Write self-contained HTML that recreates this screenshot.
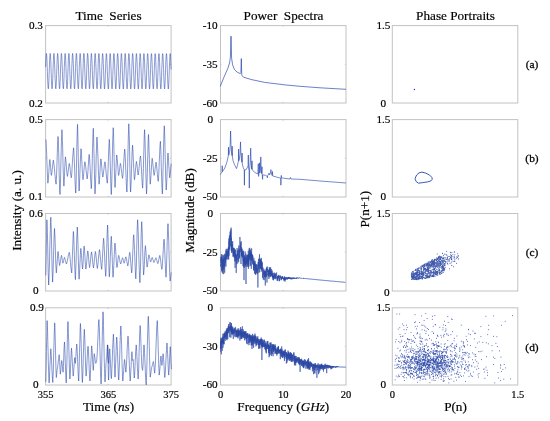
<!DOCTYPE html>
<html><head><meta charset="utf-8"><title>Time Series, Power Spectra, Phase Portraits</title>
<style>html,body{margin:0;padding:0;background:#fff}svg{display:block}text{font-family:"Liberation Serif","Times New Roman",serif;fill:#000;stroke:#000;stroke-width:0.18px}</style></head><body>
<svg width="550" height="421" viewBox="0 0 550 421">
<rect width="550" height="421" fill="#fff"/>
<rect x="45.6" y="25.6" width="125.5" height="77.4" fill="none" stroke="#c2c2c2" stroke-width="1"/>
<path d="M108.3 25.6v1.2M108.3 103.0v-1.2M45.6 64.3h1.2M171.1 64.3h-1.2" stroke="#b4b4b4" stroke-width="0.6" fill="none"/>
<rect x="45.6" y="119.6" width="125.5" height="77.4" fill="none" stroke="#c2c2c2" stroke-width="1"/>
<path d="M108.3 119.6v1.2M108.3 197.0v-1.2M45.6 158.3h1.2M171.1 158.3h-1.2" stroke="#b4b4b4" stroke-width="0.6" fill="none"/>
<rect x="45.6" y="213.5" width="125.5" height="77.5" fill="none" stroke="#c2c2c2" stroke-width="1"/>
<path d="M108.3 213.5v1.2M108.3 291.0v-1.2M45.6 252.2h1.2M171.1 252.2h-1.2" stroke="#b4b4b4" stroke-width="0.6" fill="none"/>
<rect x="45.6" y="307.8" width="125.5" height="77.2" fill="none" stroke="#c2c2c2" stroke-width="1"/>
<path d="M108.3 307.8v1.2M108.3 385.0v-1.2M45.6 346.4h1.2M171.1 346.4h-1.2" stroke="#b4b4b4" stroke-width="0.6" fill="none"/>
<rect x="220.5" y="25.6" width="125.5" height="77.4" fill="none" stroke="#c2c2c2" stroke-width="1"/>
<path d="M283.2 25.6v1.2M283.2 103.0v-1.2M220.5 64.3h1.2M346.0 64.3h-1.2" stroke="#b4b4b4" stroke-width="0.6" fill="none"/>
<rect x="220.5" y="119.6" width="125.5" height="77.4" fill="none" stroke="#c2c2c2" stroke-width="1"/>
<path d="M283.2 119.6v1.2M283.2 197.0v-1.2M220.5 158.3h1.2M346.0 158.3h-1.2" stroke="#b4b4b4" stroke-width="0.6" fill="none"/>
<rect x="220.5" y="213.5" width="125.5" height="77.5" fill="none" stroke="#c2c2c2" stroke-width="1"/>
<path d="M283.2 213.5v1.2M283.2 291.0v-1.2M220.5 252.2h1.2M346.0 252.2h-1.2" stroke="#b4b4b4" stroke-width="0.6" fill="none"/>
<rect x="220.5" y="307.8" width="125.5" height="77.2" fill="none" stroke="#c2c2c2" stroke-width="1"/>
<path d="M283.2 307.8v1.2M283.2 385.0v-1.2M220.5 346.4h1.2M346.0 346.4h-1.2" stroke="#b4b4b4" stroke-width="0.6" fill="none"/>
<rect x="392.3" y="25.6" width="125.5" height="77.4" fill="none" stroke="#c2c2c2" stroke-width="1"/>
<rect x="392.3" y="119.6" width="125.5" height="77.4" fill="none" stroke="#c2c2c2" stroke-width="1"/>
<rect x="392.3" y="213.5" width="125.5" height="77.5" fill="none" stroke="#c2c2c2" stroke-width="1"/>
<rect x="392.3" y="307.8" width="125.5" height="77.2" fill="none" stroke="#c2c2c2" stroke-width="1"/>
<polyline points="45.6,67.0 45.9,60.3 46.1,55.5 46.4,53.4 46.6,54.3 46.9,58.1 47.1,64.2 47.4,71.5 47.6,78.7 47.9,84.6 48.1,88.1 48.4,88.8 48.6,86.3 48.9,81.3 49.1,74.5 49.4,67.1 49.6,60.4 49.9,55.5 50.1,53.4 50.4,54.3 50.6,58.1 50.9,64.1 51.1,71.4 51.4,78.6 51.6,84.5 51.9,88.1 52.1,88.8 52.4,86.4 52.6,81.3 52.9,74.5 53.1,67.1 53.4,60.4 53.6,55.6 53.9,53.4 54.1,54.3 54.4,58.0 54.6,64.1 54.9,71.3 55.1,78.6 55.4,84.5 55.6,88.1 55.9,88.8 56.1,86.4 56.4,81.4 56.6,74.6 56.9,67.2 57.1,60.5 57.4,55.6 57.6,53.4 57.9,54.2 58.1,58.0 58.4,64.0 58.6,71.3 58.9,78.5 59.1,84.4 59.4,88.1 59.6,88.8 59.9,86.4 60.1,81.4 60.4,74.7 60.6,67.3 60.9,60.5 61.1,55.6 61.4,53.4 61.6,54.2 61.9,58.0 62.1,64.0 62.4,71.2 62.6,78.4 62.9,84.4 63.1,88.1 63.4,88.8 63.6,86.5 63.9,81.5 64.1,74.7 64.3,67.3 64.6,60.6 64.8,55.6 65.1,53.4 65.3,54.2 65.6,57.9 65.8,63.9 66.1,71.2 66.3,78.4 66.6,84.4 66.8,88.0 67.1,88.8 67.3,86.5 67.6,81.5 67.8,74.8 68.1,67.4 68.3,60.6 68.6,55.7 68.8,53.4 69.1,54.2 69.3,57.9 69.6,63.9 69.8,71.1 70.1,78.3 70.3,84.3 70.6,88.0 70.8,88.8 71.1,86.5 71.3,81.6 71.6,74.8 71.8,67.4 72.1,60.7 72.3,55.7 72.6,53.4 72.8,54.2 73.1,57.8 73.3,63.8 73.6,71.0 73.8,78.3 74.1,84.3 74.3,88.0 74.6,88.8 74.8,86.6 75.1,81.6 75.3,74.9 75.6,67.5 75.8,60.7 76.1,55.7 76.3,53.4 76.6,54.1 76.8,57.8 77.1,63.8 77.3,71.0 77.6,78.2 77.8,84.2 78.1,88.0 78.3,88.8 78.6,86.6 78.8,81.7 79.1,74.9 79.3,67.5 79.6,60.8 79.8,55.8 80.1,53.4 80.3,54.1 80.6,57.8 80.8,63.7 81.1,70.9 81.3,78.2 81.6,84.2 81.8,88.0 82.1,88.8 82.3,86.6 82.6,81.7 82.8,75.0 83.1,67.6 83.3,60.8 83.6,55.8 83.8,53.4 84.1,54.1 84.3,57.7 84.6,63.6 84.8,70.9 85.1,78.1 85.3,84.2 85.6,87.9 85.8,88.8 86.1,86.6 86.3,81.8 86.6,75.1 86.8,67.7 87.1,60.9 87.3,55.8 87.6,53.4 87.8,54.1 88.1,57.7 88.3,63.6 88.6,70.8 88.8,78.1 89.1,84.1 89.3,87.9 89.6,88.8 89.8,86.7 90.1,81.8 90.3,75.1 90.6,67.7 90.8,60.9 91.1,55.9 91.3,53.4 91.6,54.1 91.8,57.6 92.1,63.5 92.3,70.7 92.6,78.0 92.8,84.1 93.1,87.9 93.3,88.8 93.6,86.7 93.8,81.9 94.1,75.2 94.3,67.8 94.6,61.0 94.8,55.9 95.1,53.4 95.3,54.1 95.6,57.6 95.8,63.5 96.1,70.7 96.3,78.0 96.6,84.0 96.8,87.9 97.1,88.8 97.3,86.7 97.6,81.9 97.8,75.2 98.1,67.8 98.3,61.0 98.6,55.9 98.8,53.5 99.1,54.0 99.3,57.6 99.6,63.4 99.8,70.6 100.1,77.9 100.3,84.0 100.6,87.9 100.8,88.8 101.1,86.8 101.3,82.0 101.6,75.3 101.8,67.9 102.1,61.1 102.3,55.9 102.6,53.5 102.8,54.0 103.1,57.5 103.3,63.4 103.6,70.6 103.8,77.8 104.1,84.0 104.3,87.9 104.6,88.9 104.8,86.8 105.1,82.0 105.3,75.4 105.6,68.0 105.8,61.1 106.1,56.0 106.3,53.5 106.6,54.0 106.8,57.5 107.1,63.3 107.3,70.5 107.6,77.8 107.8,83.9 108.1,87.8 108.3,88.9 108.6,86.8 108.8,82.1 109.1,75.4 109.3,68.0 109.6,61.2 109.8,56.0 110.1,53.5 110.3,54.0 110.6,57.4 110.8,63.3 111.1,70.4 111.3,77.7 111.6,83.9 111.8,87.8 112.1,88.9 112.3,86.8 112.6,82.1 112.8,75.5 113.1,68.1 113.3,61.2 113.6,56.0 113.8,53.5 114.1,54.0 114.3,57.4 114.6,63.2 114.8,70.4 115.1,77.7 115.3,83.8 115.6,87.8 115.8,88.9 116.1,86.9 116.3,82.2 116.6,75.5 116.8,68.1 117.1,61.3 117.3,56.1 117.6,53.5 117.8,54.0 118.1,57.4 118.3,63.2 118.6,70.3 118.8,77.6 119.1,83.8 119.3,87.8 119.6,88.9 119.8,86.9 120.1,82.2 120.3,75.6 120.6,68.2 120.8,61.3 121.1,56.1 121.3,53.5 121.6,53.9 121.8,57.3 122.1,63.1 122.3,70.3 122.6,77.6 122.8,83.7 123.1,87.7 123.3,88.9 123.6,86.9 123.8,82.2 124.1,75.6 124.3,68.3 124.6,61.4 124.8,56.1 125.1,53.5 125.3,53.9 125.6,57.3 125.8,63.1 126.1,70.2 126.3,77.5 126.6,83.7 126.8,87.7 127.1,88.9 127.3,87.0 127.6,82.3 127.8,75.7 128.1,68.3 128.3,61.4 128.6,56.2 128.8,53.5 129.1,53.9 129.3,57.3 129.6,63.0 129.8,70.1 130.1,77.5 130.3,83.7 130.6,87.7 130.8,88.9 131.1,87.0 131.3,82.3 131.6,75.8 131.8,68.4 132.1,61.5 132.3,56.2 132.6,53.5 132.8,53.9 133.1,57.2 133.3,62.9 133.6,70.1 133.8,77.4 134.1,83.6 134.3,87.7 134.6,88.9 134.8,87.0 135.1,82.4 135.3,75.8 135.6,68.4 135.8,61.5 136.1,56.2 136.3,53.5 136.6,53.9 136.8,57.2 137.1,62.9 137.3,70.0 137.6,77.3 137.8,83.6 138.1,87.7 138.3,88.9 138.6,87.0 138.8,82.4 139.1,75.9 139.3,68.5 139.6,61.6 139.8,56.3 140.1,53.5 140.3,53.9 140.6,57.1 140.8,62.8 141.1,70.0 141.3,77.3 141.6,83.5 141.8,87.6 142.1,88.9 142.3,87.1 142.6,82.5 142.8,75.9 143.1,68.5 143.3,61.6 143.6,56.3 143.8,53.6 144.1,53.8 144.3,57.1 144.6,62.8 144.8,69.9 145.1,77.2 145.3,83.5 145.6,87.6 145.8,88.9 146.1,87.1 146.3,82.5 146.6,76.0 146.8,68.6 147.1,61.7 147.3,56.3 147.6,53.6 147.8,53.8 148.1,57.1 148.3,62.7 148.6,69.8 148.8,77.2 149.1,83.5 149.3,87.6 149.6,88.9 149.8,87.1 150.1,82.6 150.3,76.0 150.6,68.7 150.8,61.7 151.1,56.4 151.3,53.6 151.6,53.8 151.8,57.0 152.1,62.7 152.3,69.8 152.6,77.1 152.8,83.4 153.1,87.6 153.3,88.9 153.6,87.1 153.8,82.6 154.1,76.1 154.3,68.7 154.6,61.8 154.8,56.4 155.1,53.6 155.3,53.8 155.6,57.0 155.8,62.6 156.1,69.7 156.3,77.1 156.6,83.4 156.8,87.6 157.1,88.9 157.3,87.2 157.6,82.7 157.8,76.2 158.1,68.8 158.3,61.8 158.6,56.4 158.8,53.6 159.1,53.8 159.3,57.0 159.6,62.6 159.8,69.7 160.1,77.0 160.3,83.3 160.6,87.5 160.8,88.9 161.1,87.2 161.3,82.7 161.6,76.2 161.8,68.8 162.1,61.9 162.3,56.5 162.6,53.6 162.8,53.8 163.1,56.9 163.3,62.5 163.6,69.6 163.8,77.0 164.1,83.3 164.3,87.5 164.6,88.9 164.8,87.2 165.1,82.7 165.3,76.3 165.6,68.9 165.8,61.9 166.1,56.5 166.3,53.6 166.6,53.8 166.8,56.9 167.1,62.5 167.3,69.6 167.6,76.9 167.8,83.2 168.1,87.5 168.3,88.9 168.6,87.2 168.8,82.8 169.1,76.3 169.3,69.0 169.6,62.0 169.8,56.5 170.1,53.6 170.3,53.7 170.6,56.9 170.8,62.4 171.1,69.5" fill="none" stroke="#1a3aa5" stroke-width="0.50" stroke-linejoin="round" stroke-opacity="1.00"/>
<polyline points="45.9,139.4 46.2,142.8 46.4,147.9 46.7,154.2 46.9,161.3 47.2,168.4 47.4,174.8 47.7,179.8 47.9,183.2 48.1,181.4 48.4,178.6 48.6,175.2 48.9,171.3 49.1,167.5 49.4,164.0 49.6,161.3 49.8,159.5 50.0,160.7 50.2,162.5 50.4,164.9 50.6,167.4 50.8,170.0 51.0,172.4 51.2,174.2 51.4,175.4 51.6,174.3 51.9,172.5 52.1,170.3 52.4,167.8 52.6,165.4 52.9,163.2 53.1,161.4 53.3,160.2 53.7,162.1 54.0,164.9 54.4,168.4 54.7,172.2 55.1,176.1 55.4,179.6 55.7,182.3 56.1,184.2 56.3,180.5 56.6,175.0 56.8,168.0 57.1,160.3 57.3,152.6 57.5,145.7 57.8,140.2 58.0,136.5 58.3,141.0 58.5,147.7 58.8,156.1 59.0,165.5 59.2,174.9 59.5,183.3 59.7,190.0 60.0,194.5 60.2,189.5 60.5,182.0 60.7,172.6 60.9,162.1 61.2,151.6 61.4,142.2 61.7,134.7 61.9,129.7 62.2,134.0 62.4,140.6 62.7,148.8 62.9,157.9 63.1,167.0 63.4,175.2 63.6,181.8 63.9,186.1 64.1,183.9 64.3,180.5 64.5,176.3 64.6,171.5 64.8,166.8 65.0,162.6 65.2,159.2 65.4,156.9 65.7,158.4 65.9,160.7 66.2,163.5 66.4,166.7 66.6,169.8 66.9,172.6 67.1,174.9 67.4,176.4 67.6,175.4 67.9,173.9 68.1,172.0 68.3,169.9 68.6,167.8 68.8,165.9 69.1,164.4 69.3,163.4 69.6,164.5 69.8,166.1 70.1,168.2 70.3,170.6 70.5,172.9 70.8,175.0 71.0,176.7 71.3,177.8 71.6,175.5 71.9,172.0 72.1,167.6 72.4,162.8 72.7,157.9 73.0,153.6 73.3,150.1 73.6,147.8 73.9,151.3 74.1,156.5 74.4,163.1 74.7,170.4 74.9,177.7 75.2,184.2 75.5,189.5 75.7,193.0 76.0,187.7 76.2,179.7 76.4,169.8 76.6,158.7 76.8,147.6 77.1,137.6 77.3,129.7 77.5,124.4 77.7,129.5 77.9,137.3 78.1,147.0 78.3,157.7 78.5,168.5 78.7,178.2 78.9,185.9 79.1,191.0 79.3,187.8 79.5,182.9 79.8,176.7 80.0,169.9 80.3,163.1 80.5,156.9 80.8,152.0 81.0,148.7 81.3,151.1 81.5,154.7 81.7,159.2 82.0,164.2 82.2,169.2 82.5,173.7 82.7,177.3 83.0,179.7 83.2,178.3 83.4,176.3 83.7,173.7 83.9,170.8 84.2,167.9 84.4,165.3 84.7,163.2 84.9,161.8 85.2,163.1 85.5,165.1 85.8,167.6 86.1,170.4 86.4,173.1 86.7,175.6 86.9,177.6 87.2,178.9 87.5,177.0 87.7,174.2 88.0,170.6 88.2,166.7 88.5,162.7 88.7,159.1 88.9,156.3 89.2,154.4 89.5,157.0 89.7,161.0 90.0,166.0 90.3,171.5 90.5,177.1 90.8,182.1 91.1,186.0 91.3,188.7 91.6,184.0 91.8,177.0 92.1,168.2 92.3,158.5 92.5,148.7 92.8,140.0 93.0,133.0 93.3,128.3 93.5,133.4 93.7,141.0 93.9,150.5 94.2,161.1 94.4,171.7 94.6,181.3 94.8,188.9 95.0,193.9 95.3,189.5 95.5,183.0 95.8,174.7 96.0,165.5 96.2,156.3 96.5,148.0 96.7,141.5 97.0,137.1 97.2,140.7 97.5,146.2 97.8,153.0 98.1,160.6 98.3,168.2 98.6,175.1 98.9,180.6 99.1,184.2 99.3,182.2 99.6,179.3 99.8,175.6 100.0,171.5 100.2,167.4 100.4,163.8 100.7,160.8 100.9,158.9 101.1,160.3 101.4,162.4 101.6,165.0 101.8,167.9 102.1,170.9 102.3,173.5 102.6,175.6 102.8,177.0 103.1,175.8 103.4,174.1 103.6,171.8 103.9,169.4 104.2,166.9 104.4,164.7 104.7,163.0 105.0,161.8 105.3,163.5 105.6,165.9 105.8,169.1 106.1,172.5 106.4,176.0 106.7,179.1 107.0,181.6 107.3,183.2 107.6,179.8 107.8,174.8 108.1,168.4 108.3,161.3 108.6,154.2 108.8,147.9 109.1,142.8 109.3,139.4 109.6,143.7 109.8,150.0 110.1,158.1 110.3,167.0 110.6,175.9 110.8,183.9 111.0,190.3 111.3,194.5 111.5,189.4 111.8,181.6 112.0,171.9 112.3,161.1 112.5,150.3 112.7,140.6 113.0,132.9 113.2,127.7 113.5,132.3 113.7,139.3 113.9,148.0 114.1,157.6 114.3,167.3 114.5,176.0 114.8,182.9 115.0,187.5 115.2,185.0 115.4,181.2 115.6,176.5 115.9,171.2 116.1,166.0 116.3,161.3 116.5,157.5 116.7,155.0 117.0,156.6 117.2,158.9 117.5,161.9 117.7,165.2 118.0,168.5 118.2,171.5 118.4,173.9 118.7,175.4 118.9,174.5 119.1,173.1 119.3,171.3 119.6,169.4 119.8,167.4 120.0,165.7 120.2,164.3 120.4,163.4 120.7,164.5 121.0,166.3 121.2,168.4 121.5,170.9 121.8,173.3 122.0,175.5 122.3,177.2 122.6,178.4 122.9,176.1 123.1,172.7 123.4,168.5 123.7,163.7 123.9,159.0 124.2,154.8 124.5,151.4 124.7,149.1 125.0,152.4 125.3,157.4 125.5,163.6 125.8,170.6 126.1,177.5 126.3,183.7 126.6,188.7 126.9,192.0 127.1,186.7 127.4,178.8 127.6,168.9 127.8,157.9 128.1,146.9 128.3,137.0 128.6,129.1 128.8,123.8 129.0,129.1 129.3,137.0 129.5,146.9 129.7,157.9 129.9,168.9 130.1,178.8 130.3,186.7 130.6,192.0 130.8,188.4 131.1,183.0 131.3,176.2 131.5,168.6 131.8,161.1 132.0,154.3 132.3,148.9 132.5,145.2 132.8,147.9 133.0,151.9 133.2,156.9 133.5,162.5 133.7,168.0 134.0,173.1 134.2,177.1 134.5,179.7 134.7,178.3 135.0,176.2 135.2,173.5 135.4,170.6 135.7,167.6 135.9,164.9 136.2,162.8 136.4,161.4 136.6,162.5 136.9,164.0 137.1,166.0 137.3,168.2 137.5,170.4 137.7,172.4 137.9,174.0 138.2,175.0 138.5,173.6 138.7,171.4 139.0,168.6 139.3,165.5 139.6,162.4 139.9,159.6 140.2,157.4 140.5,156.0 140.8,158.4 141.0,162.2 141.3,166.8 141.6,172.0 141.8,177.2 142.1,181.9 142.4,185.6 142.6,188.1 142.9,183.6 143.1,176.8 143.4,168.3 143.6,158.9 143.9,149.4 144.1,140.9 144.3,134.2 144.6,129.7 144.8,134.6 145.1,142.1 145.3,151.4 145.6,161.8 145.8,172.2 146.1,181.5 146.3,189.0 146.5,193.9 146.8,189.4 147.0,182.5 147.3,173.8 147.5,164.2 147.8,154.6 148.0,146.0 148.2,139.1 148.5,134.5 148.7,138.4 148.9,144.1 149.1,151.3 149.4,159.4 149.6,167.4 149.8,174.6 150.0,180.4 150.2,184.2 150.5,182.2 150.7,179.2 151.0,175.4 151.2,171.2 151.5,167.1 151.7,163.3 151.9,160.3 152.2,158.3 152.4,159.6 152.7,161.6 152.9,164.1 153.2,166.9 153.4,169.6 153.6,172.1 153.9,174.1 154.1,175.4 154.4,174.4 154.6,172.9 154.9,171.0 155.1,168.8 155.4,166.7 155.6,164.7 155.8,163.2 156.1,162.2 156.4,163.7 156.6,165.9 156.9,168.7 157.2,171.7 157.4,174.8 157.7,177.6 158.0,179.8 158.2,181.3 158.5,178.2 158.8,173.6 159.0,167.8 159.3,161.3 159.6,154.9 159.8,149.1 160.1,144.4 160.4,141.3 160.6,145.4 160.9,151.5 161.1,159.2 161.3,167.6 161.6,176.1 161.8,183.8 162.1,189.9 162.3,193.9 162.6,188.7 162.8,180.8 163.0,170.9 163.3,159.9 163.5,148.8 163.8,138.9 164.0,131.0 164.3,125.8 164.5,130.7 164.8,138.2 165.0,147.5 165.2,157.9 165.5,168.3 165.7,177.6 166.0,185.1 166.2,190.0 166.4,187.2 166.7,182.9 166.9,177.5 167.1,171.5 167.3,165.6 167.5,160.2 167.7,155.9 168.0,153.0 168.2,154.9 168.4,157.8 168.6,161.4 168.8,165.4 169.1,169.4 169.3,173.0 169.5,175.9 169.7,177.8 169.9,176.7 170.1,175.1 170.3,173.0 170.5,170.8 170.7,168.5 170.9,166.5 171.1,164.8 171.3,163.7" fill="none" stroke="#1a3aa5" stroke-width="0.52" stroke-linejoin="round" stroke-opacity="1.00"/>
<polyline points="45.8,275.3 45.9,271.0 46.0,264.6 46.2,256.5 46.3,247.5 46.5,238.6 46.6,230.5 46.8,224.0 46.9,219.8 47.1,224.8 47.4,232.4 47.6,241.9 47.8,252.4 48.0,262.9 48.2,272.4 48.5,280.0 48.7,285.0 48.9,279.8 49.2,271.9 49.5,262.1 49.7,251.1 50.0,240.2 50.3,230.3 50.5,222.5 50.8,217.2 51.0,222.2 51.3,229.8 51.5,239.2 51.7,249.7 51.9,260.1 52.1,269.6 52.4,277.1 52.6,282.1 52.8,278.0 53.1,271.8 53.3,264.0 53.5,255.3 53.8,246.7 54.0,238.9 54.3,232.7 54.5,228.5 54.7,232.0 55.0,237.1 55.2,243.6 55.4,250.7 55.6,257.9 55.8,264.4 56.1,269.5 56.3,272.9 56.5,271.3 56.7,268.8 56.9,265.7 57.1,262.2 57.4,258.8 57.6,255.7 57.8,253.2 58.0,251.5 58.2,252.6 58.4,254.2 58.6,256.3 58.8,258.5 59.0,260.8 59.2,262.8 59.4,264.5 59.6,265.5 59.8,264.8 60.1,263.6 60.3,262.1 60.6,260.5 60.8,258.8 61.0,257.4 61.3,256.2 61.5,255.4 61.7,256.0 61.9,256.9 62.0,258.0 62.2,259.3 62.4,260.6 62.6,261.7 62.7,262.6 62.9,263.2 63.1,262.8 63.3,262.1 63.5,261.2 63.7,260.3 63.9,259.3 64.1,258.5 64.3,257.8 64.5,257.4 64.7,257.9 64.9,258.6 65.2,259.6 65.4,260.7 65.7,261.7 65.9,262.7 66.2,263.5 66.4,264.0 66.8,263.1 67.1,261.7 67.5,260.0 67.9,258.1 68.2,256.2 68.6,254.5 69.0,253.2 69.3,252.3 69.6,253.9 69.9,256.3 70.2,259.3 70.5,262.6 70.8,266.0 71.1,269.0 71.4,271.3 71.7,272.9 71.9,269.7 72.1,264.9 72.3,258.9 72.5,252.2 72.8,245.5 73.0,239.5 73.2,234.7 73.4,231.5 73.7,235.2 73.9,240.7 74.1,247.7 74.4,255.5 74.6,263.3 74.9,270.3 75.1,275.8 75.4,279.6 75.6,275.5 75.8,269.4 76.1,261.8 76.3,253.3 76.6,244.8 76.8,237.1 77.1,231.0 77.3,227.0 77.5,231.0 77.7,237.0 78.0,244.6 78.2,253.1 78.4,261.5 78.6,269.1 78.8,275.1 79.1,279.2 79.3,276.8 79.5,273.2 79.7,268.8 79.9,263.8 80.2,258.8 80.4,254.3 80.6,250.8 80.8,248.4 81.0,250.0 81.3,252.4 81.5,255.4 81.7,258.7 81.9,262.1 82.1,265.1 82.3,267.5 82.6,269.0 82.8,267.3 83.0,264.6 83.2,261.3 83.3,257.6 83.5,253.8 83.7,250.5 83.9,247.8 84.1,246.1 84.3,247.8 84.6,250.5 84.8,253.8 85.0,257.6 85.2,261.3 85.4,264.6 85.7,267.3 85.9,269.0 86.1,267.6 86.4,265.5 86.6,262.9 86.9,260.0 87.1,257.1 87.3,254.4 87.6,252.3 87.8,250.9 88.0,252.2 88.3,254.1 88.5,256.5 88.7,259.2 88.9,261.9 89.1,264.3 89.4,266.2 89.6,267.5 89.8,266.3 90.1,264.5 90.3,262.2 90.6,259.7 90.8,257.2 91.0,254.9 91.3,253.1 91.5,251.9 91.8,253.1 92.0,255.0 92.3,257.3 92.5,259.9 92.7,262.5 93.0,264.8 93.2,266.6 93.5,267.9 93.7,266.6 94.0,264.7 94.2,262.3 94.4,259.7 94.7,257.1 94.9,254.7 95.2,252.8 95.4,251.5 95.7,252.8 95.9,254.8 96.2,257.3 96.4,260.0 96.6,262.7 96.9,265.2 97.1,267.2 97.4,268.5 97.6,267.0 97.9,264.8 98.2,262.1 98.4,259.0 98.7,256.0 99.0,253.2 99.2,251.0 99.5,249.6 99.8,251.1 100.0,253.4 100.3,256.3 100.6,259.5 100.9,262.7 101.1,265.6 101.4,267.9 101.7,269.4 101.9,267.0 102.1,263.4 102.4,258.9 102.6,253.9 102.9,248.8 103.1,244.3 103.4,240.7 103.6,238.3 103.9,241.2 104.1,245.6 104.4,251.1 104.7,257.3 104.9,263.4 105.2,268.9 105.5,273.3 105.7,276.3 106.0,272.3 106.2,266.4 106.4,258.9 106.7,250.6 106.9,242.4 107.1,234.9 107.4,229.0 107.6,225.0 107.8,229.0 108.0,235.0 108.2,242.6 108.5,250.9 108.7,259.3 108.9,266.8 109.1,272.8 109.3,276.8 109.6,273.7 109.8,269.0 110.1,263.1 110.3,256.6 110.6,250.0 110.8,244.1 111.0,239.4 111.3,236.3 111.5,239.5 111.7,244.2 111.9,250.2 112.2,256.8 112.4,263.4 112.6,269.3 112.8,274.1 113.0,277.2 113.3,274.6 113.5,270.6 113.8,265.7 114.0,260.2 114.3,254.7 114.5,249.7 114.7,245.8 115.0,243.1 115.2,245.0 115.5,247.8 115.7,251.4 116.0,255.3 116.2,259.2 116.4,262.8 116.7,265.6 116.9,267.5 117.2,266.6 117.4,265.2 117.6,263.4 117.8,261.4 118.0,259.5 118.2,257.7 118.5,256.3 118.7,255.4 118.9,256.1 119.2,257.1 119.4,258.3 119.7,259.7 119.9,261.1 120.1,262.3 120.4,263.3 120.6,264.0 120.9,263.5 121.1,262.8 121.4,261.9 121.6,260.9 121.9,259.9 122.1,259.0 122.3,258.2 122.6,257.7 122.8,258.2 123.0,258.8 123.2,259.6 123.4,260.5 123.6,261.4 123.8,262.1 123.9,262.8 124.1,263.2 124.4,262.7 124.6,262.0 124.8,261.0 125.0,260.0 125.2,258.9 125.5,258.0 125.7,257.3 125.9,256.8 126.1,257.5 126.4,258.5 126.6,259.9 126.9,261.4 127.1,262.8 127.4,264.2 127.6,265.2 127.8,265.9 128.1,264.9 128.3,263.3 128.6,261.3 128.8,259.1 129.1,256.9 129.3,254.9 129.5,253.3 129.8,252.3 130.0,253.9 130.3,256.3 130.5,259.3 130.8,262.6 131.0,266.0 131.3,269.0 131.5,271.3 131.7,272.9 132.0,270.0 132.2,265.6 132.5,260.0 132.7,253.9 133.0,247.7 133.2,242.1 133.4,237.7 133.7,234.8 134.0,238.2 134.2,243.3 134.5,249.7 134.8,256.8 135.0,263.9 135.3,270.3 135.6,275.4 135.8,278.8 136.0,274.2 136.3,267.4 136.5,258.8 136.7,249.3 136.9,239.7 137.1,231.2 137.4,224.3 137.6,219.8 137.9,224.6 138.2,231.9 138.5,241.1 138.7,251.2 139.0,261.4 139.3,270.5 139.6,277.8 139.9,282.7 140.1,278.0 140.4,270.9 140.6,262.0 140.8,252.2 141.0,242.4 141.2,233.5 141.5,226.4 141.7,221.7 141.9,225.8 142.2,232.0 142.4,239.7 142.6,248.3 142.9,256.9 143.1,264.6 143.4,270.8 143.6,274.9 143.8,272.6 144.1,269.2 144.3,265.0 144.5,260.3 144.7,255.6 144.9,251.3 145.2,247.9 145.4,245.7 145.6,247.3 145.8,249.8 146.0,252.9 146.2,256.4 146.5,259.8 146.7,263.0 146.9,265.4 147.1,267.1 147.3,266.1 147.6,264.7 147.8,262.9 148.0,261.0 148.2,259.0 148.4,257.2 148.7,255.8 148.9,254.8 149.1,255.4 149.3,256.2 149.5,257.3 149.8,258.4 150.0,259.6 150.2,260.6 150.4,261.5 150.6,262.0 150.8,261.7 151.0,261.1 151.2,260.4 151.4,259.7 151.6,258.9 151.8,258.3 152.0,257.7 152.2,257.4 152.4,257.8 152.6,258.4 152.8,259.1 153.1,260.0 153.3,260.8 153.5,261.6 153.7,262.2 153.9,262.6 154.2,262.2 154.4,261.7 154.7,261.0 154.9,260.2 155.2,259.4 155.4,258.7 155.6,258.1 155.9,257.7 156.1,258.2 156.4,258.9 156.6,259.7 156.9,260.7 157.1,261.6 157.4,262.5 157.6,263.1 157.8,263.6 158.1,263.0 158.3,262.0 158.6,260.8 158.8,259.5 159.1,258.2 159.3,257.0 159.5,256.0 159.8,255.4 160.1,256.5 160.3,258.1 160.6,260.2 160.9,262.4 161.1,264.7 161.4,266.7 161.7,268.4 161.9,269.4 162.2,267.1 162.5,263.6 162.7,259.2 163.0,254.3 163.3,249.5 163.5,245.1 163.8,241.6 164.1,239.2 164.3,242.2 164.6,246.6 164.8,252.1 165.0,258.2 165.3,264.4 165.5,269.9 165.8,274.3 166.0,277.2 166.3,273.1 166.5,266.9 166.7,259.1 167.0,250.4 167.2,241.8 167.5,234.0 167.7,227.8 168.0,223.7 168.2,228.1 168.5,234.8 168.8,243.1 169.0,252.4 169.3,261.7 169.6,270.0 169.8,276.7 170.1,281.1 170.3,280.4 170.4,279.4 170.5,278.2 170.7,276.7 170.8,275.3 171.0,274.0 171.1,273.0 171.3,272.4" fill="none" stroke="#1a3aa5" stroke-width="0.52" stroke-linejoin="round" stroke-opacity="1.00"/>
<polyline points="45.8,381.9 45.9,377.2 46.1,370.1 46.3,361.2 46.4,351.3 46.6,341.4 46.8,332.4 46.9,325.3 47.1,320.6 47.4,325.4 47.6,332.6 47.8,341.7 48.1,351.7 48.3,361.8 48.6,370.9 48.8,378.1 49.1,382.9 49.3,380.3 49.5,376.3 49.7,371.4 49.9,365.9 50.2,360.4 50.4,355.4 50.6,351.5 50.8,348.8 51.1,351.4 51.3,355.3 51.5,360.2 51.8,365.7 52.0,371.1 52.3,376.0 52.5,379.9 52.8,382.5 53.0,377.9 53.3,371.0 53.5,362.3 53.7,352.7 54.0,343.1 54.2,334.4 54.5,327.5 54.7,322.9 54.9,327.1 55.1,333.4 55.3,341.4 55.5,350.2 55.7,359.0 55.9,366.9 56.1,373.2 56.3,377.5 56.4,376.8 56.5,375.9 56.6,374.7 56.8,373.4 56.9,372.0 57.0,370.9 57.1,369.9 57.2,369.3 57.5,368.1 57.7,366.5 58.0,364.3 58.2,362.0 58.5,359.6 58.7,357.5 58.9,355.8 59.2,354.7 59.3,356.2 59.5,358.4 59.6,361.3 59.8,364.4 59.9,367.6 60.1,370.4 60.2,372.6 60.4,374.1 60.5,373.1 60.7,371.5 60.9,369.5 61.0,367.3 61.2,365.1 61.4,363.1 61.6,361.6 61.7,360.5 61.9,361.4 62.1,362.8 62.2,364.5 62.4,366.4 62.6,368.2 62.7,369.9 62.9,371.3 63.1,372.2 63.3,369.9 63.4,366.4 63.6,362.0 63.8,357.1 63.9,352.2 64.1,347.8 64.3,344.3 64.5,342.0 64.7,345.2 64.9,349.9 65.1,355.9 65.3,362.5 65.5,369.1 65.8,375.0 66.0,379.8 66.2,382.9 66.4,378.2 66.6,371.1 66.9,362.1 67.1,352.2 67.3,342.3 67.5,333.4 67.7,326.3 68.0,321.6 68.2,326.0 68.4,332.6 68.7,341.0 68.9,350.3 69.2,359.6 69.4,367.9 69.7,374.6 69.9,379.0 70.1,376.6 70.3,373.1 70.5,368.6 70.7,363.6 70.9,358.7 71.1,354.2 71.3,350.6 71.5,348.2 71.7,350.4 71.9,353.6 72.1,357.7 72.3,362.2 72.6,366.7 72.8,370.7 73.0,373.9 73.2,376.1 73.4,374.7 73.6,372.5 73.8,369.8 74.0,366.8 74.2,363.9 74.4,361.2 74.6,359.0 74.8,357.6 74.8,358.0 74.9,358.7 75.0,359.6 75.1,360.5 75.1,361.5 75.2,362.3 75.3,363.0 75.4,363.4 75.5,361.9 75.7,359.7 75.9,356.8 76.0,353.7 76.2,350.5 76.4,347.7 76.6,345.5 76.7,344.0 77.0,346.8 77.2,351.1 77.5,356.5 77.7,362.5 77.9,368.4 78.2,373.8 78.4,378.1 78.7,381.0 78.9,376.5 79.1,369.9 79.3,361.5 79.5,352.2 79.8,343.0 80.0,334.6 80.2,327.9 80.4,323.5 80.7,328.1 80.9,334.9 81.2,343.5 81.4,353.0 81.6,362.5 81.9,371.1 82.1,378.0 82.4,382.5 82.6,378.4 82.9,372.3 83.1,364.5 83.3,355.9 83.6,347.3 83.8,339.6 84.1,333.5 84.3,329.3 84.5,333.0 84.8,338.4 85.0,345.2 85.2,352.7 85.4,360.3 85.6,367.1 85.9,372.5 86.1,376.1 86.3,373.8 86.6,370.3 86.8,366.0 87.0,361.2 87.3,356.4 87.5,352.0 87.8,348.6 88.0,346.3 88.3,349.0 88.5,353.0 88.8,358.0 89.0,363.6 89.2,369.2 89.5,374.3 89.7,378.3 90.0,381.0 90.2,378.3 90.4,374.2 90.6,369.1 90.8,363.4 91.1,357.8 91.3,352.7 91.5,348.6 91.7,345.9 91.9,347.8 92.1,350.6 92.3,354.1 92.5,358.1 92.7,362.0 92.9,365.6 93.1,368.4 93.3,370.3 93.4,369.0 93.5,367.1 93.6,364.6 93.8,362.0 93.9,359.3 94.0,356.9 94.1,355.0 94.3,353.7 94.4,354.4 94.6,355.6 94.8,357.0 95.0,358.6 95.2,360.1 95.4,361.6 95.6,362.7 95.8,363.4 95.9,363.3 96.0,363.1 96.1,362.8 96.2,362.5 96.3,362.1 96.4,361.9 96.5,361.6 96.6,361.5 96.9,358.3 97.2,353.4 97.5,347.3 97.8,340.5 98.1,333.8 98.3,327.7 98.6,322.8 98.9,319.6 99.2,324.6 99.5,332.0 99.7,341.4 100.0,351.7 100.3,362.1 100.5,371.5 100.8,378.9 101.1,383.9 101.3,378.3 101.6,370.0 101.8,359.5 102.0,347.9 102.3,336.2 102.5,325.7 102.8,317.4 103.0,311.8 103.3,317.2 103.5,325.4 103.7,335.6 104.0,346.9 104.2,358.2 104.5,368.4 104.7,376.5 105.0,381.9 105.2,380.1 105.4,377.2 105.6,373.7 105.7,369.8 105.9,365.8 106.1,362.3 106.3,359.5 106.5,357.6 106.6,356.6 106.8,355.1 106.9,353.3 107.0,351.3 107.1,349.2 107.3,347.4 107.4,345.9 107.5,344.9 107.6,346.4 107.7,348.5 107.9,351.2 108.0,354.2 108.1,357.2 108.2,359.9 108.4,362.0 108.5,363.4 108.4,362.0 108.3,359.9 108.1,357.2 108.0,354.2 107.9,351.2 107.8,348.5 107.7,346.4 107.6,344.9 107.7,347.6 107.8,351.7 107.9,356.8 108.1,362.5 108.2,368.1 108.3,373.2 108.4,377.3 108.6,380.0 108.7,377.6 108.9,374.0 109.0,369.4 109.1,364.4 109.3,359.4 109.4,354.8 109.6,351.2 109.7,348.8 109.9,351.1 110.1,354.6 110.3,358.9 110.5,363.7 110.7,368.5 110.9,372.9 111.1,376.3 111.3,378.6 111.6,375.2 111.8,370.1 112.1,363.6 112.4,356.4 112.6,349.3 112.9,342.8 113.2,337.6 113.4,334.2 113.6,337.5 113.8,342.5 114.0,348.7 114.2,355.6 114.4,362.6 114.6,368.8 114.8,373.8 115.0,377.1 115.2,374.0 115.4,369.4 115.6,363.6 115.9,357.1 116.1,350.7 116.3,344.8 116.5,340.2 116.7,337.1 117.0,340.4 117.2,345.4 117.5,351.6 117.7,358.6 118.0,365.5 118.2,371.7 118.4,376.7 118.7,380.0 119.0,375.8 119.2,369.6 119.5,361.7 119.8,353.0 120.0,344.3 120.3,336.5 120.6,330.2 120.8,326.0 121.1,330.3 121.3,336.6 121.6,344.6 121.8,353.5 122.0,362.4 122.3,370.4 122.5,376.7 122.8,381.0 123.0,379.3 123.2,376.8 123.4,373.7 123.7,370.3 123.9,366.8 124.1,363.7 124.3,361.2 124.5,359.5 124.7,360.5 124.9,362.0 125.0,363.8 125.2,365.9 125.4,367.9 125.6,369.8 125.7,371.2 125.9,372.2 126.2,369.4 126.4,365.2 126.7,360.0 127.0,354.2 127.2,348.4 127.5,343.1 127.8,338.9 128.0,336.2 128.3,339.6 128.6,344.8 128.8,351.3 129.1,358.6 129.4,365.8 129.6,372.3 129.9,377.5 130.2,381.0 130.4,378.7 130.6,375.3 130.8,371.1 131.1,366.4 131.3,361.6 131.5,357.4 131.7,354.0 131.9,351.7 132.0,352.4 132.1,353.4 132.2,354.7 132.3,356.1 132.4,357.5 132.5,358.8 132.6,359.8 132.7,360.5 132.8,360.4 132.8,360.3 132.9,360.2 132.9,360.0 133.0,359.9 133.0,359.7 133.1,359.6 133.1,359.5 133.2,361.0 133.4,363.1 133.5,365.8 133.7,368.8 133.8,371.8 134.0,374.5 134.1,376.6 134.3,378.0 134.5,375.5 134.8,371.7 135.0,366.8 135.2,361.5 135.5,356.1 135.7,351.3 136.0,347.5 136.2,344.9 136.5,347.6 136.7,351.5 136.9,356.5 137.2,362.0 137.4,367.5 137.7,372.4 137.9,376.4 138.2,379.0 138.4,374.9 138.7,368.7 138.9,360.9 139.1,352.2 139.4,343.6 139.6,335.8 139.9,329.6 140.1,325.5 140.4,328.8 140.6,333.7 140.8,340.0 141.1,346.9 141.3,353.8 141.6,360.0 141.8,365.0 142.1,368.3 142.1,368.5 142.2,368.7 142.3,369.0 142.4,369.3 142.4,369.6 142.5,369.9 142.6,370.1 142.6,370.3 142.8,368.3 143.0,365.4 143.2,361.7 143.3,357.6 143.5,353.5 143.7,349.8 143.8,346.9 144.0,344.9 144.3,348.0 144.5,352.6 144.8,358.4 145.1,364.9 145.3,371.3 145.6,377.2 145.9,381.8 146.2,384.9 146.4,379.6 146.7,371.6 147.0,361.7 147.2,350.6 147.5,339.5 147.8,329.5 148.0,321.6 148.3,316.3 148.5,321.0 148.8,328.0 149.0,336.9 149.3,346.7 149.5,356.5 149.8,365.3 150.0,372.4 150.2,377.1 150.4,376.3 150.6,375.1 150.8,373.6 151.0,372.0 151.2,370.4 151.4,368.9 151.6,367.7 151.8,366.9 152.0,366.5 152.2,365.9 152.4,365.1 152.6,364.2 152.8,363.3 153.0,362.5 153.2,361.9 153.4,361.5 153.5,362.4 153.7,363.7 153.9,365.4 154.0,367.3 154.2,369.2 154.4,370.9 154.6,372.3 154.7,373.2 155.0,369.1 155.4,363.0 155.7,355.4 156.0,346.9 156.3,338.4 156.6,330.7 156.9,324.6 157.3,320.6 157.5,324.8 157.7,331.1 158.0,339.0 158.2,347.9 158.5,356.7 158.7,364.6 159.0,370.9 159.2,375.1 159.4,373.6 159.6,371.4 159.9,368.7 160.1,365.6 160.3,362.5 160.5,359.7 160.7,357.5 161.0,356.0 161.1,356.8 161.2,357.8 161.3,359.2 161.4,360.7 161.6,362.2 161.7,363.6 161.8,364.7 161.9,365.4 162.1,364.5 162.2,363.1 162.4,361.4 162.5,359.5 162.7,357.7 162.8,356.0 163.0,354.6 163.1,353.7 163.3,355.5 163.5,358.3 163.8,361.7 164.0,365.6 164.2,369.4 164.4,372.9 164.6,375.6 164.8,377.5 165.1,374.8 165.4,370.8 165.7,365.8 165.9,360.2 166.2,354.7 166.5,349.6 166.7,345.6 167.0,343.0 167.2,345.5 167.4,349.2 167.6,353.9 167.9,359.1 168.1,364.2 168.3,368.9 168.5,372.6 168.7,375.1 168.9,372.9 169.1,369.7 169.3,365.6 169.5,361.0 169.7,356.4 169.9,352.3 170.1,349.1 170.3,346.9 170.4,348.6 170.6,351.2 170.7,354.5 170.9,358.1 171.0,361.7 171.2,365.0 171.3,367.5 171.5,369.3" fill="none" stroke="#1a3aa5" stroke-width="0.52" stroke-linejoin="round" stroke-opacity="1.00"/>
<polyline points="220.3,86.3 223.8,77.5 227.7,68.8 229.6,62.9 230.4,57.1 231.0,36.2 231.6,58.1 232.6,64.9 234.5,69.7 237.4,72.3 240.3,73.6 240.9,72.7 241.3,58.6 241.7,74.0 242.1,75.6 243.3,77.1 251.1,79.5 264.7,82.4 285.1,84.9 300.0,86.3 320.0,87.8 346.0,89.3" fill="none" stroke="#1c3ca6" stroke-width="0.65" stroke-linejoin="round" stroke-opacity="1.00"/>
<polyline points="220.3,174.5 221.8,172.3 222.0,171.9 222.2,165.7 222.4,171.7 224.8,168.0 226.7,162.8 227.7,158.9 228.3,155.6 228.5,147.2 228.7,155.2 229.2,153.6 229.8,150.1 230.2,144.3 230.6,131.0 231.0,144.3 231.4,151.1 232.0,155.6 232.2,146.2 232.4,156.9 233.1,160.8 234.5,164.7 236.5,168.6 237.4,165.7 238.0,162.8 238.4,161.4 238.6,149.1 238.8,160.8 239.4,158.9 240.0,154.0 240.5,141.9 240.9,153.0 241.5,159.9 241.9,162.2 242.1,153.0 242.3,163.7 243.1,167.3 244.2,169.6 244.4,185.2 244.6,170.0 246.2,169.6 247.4,167.3 248.1,165.7 248.3,155.0 248.5,168.0 249.1,170.6 249.3,188.1 249.5,169.2 250.1,163.7 250.7,148.2 251.1,162.8 251.6,168.0 251.8,169.2 252.0,160.8 252.2,170.0 255.0,172.5 256.9,173.5 257.9,173.9 258.3,163.7 258.5,175.4 258.7,176.4 258.9,173.5 259.4,171.9 259.6,162.8 259.8,173.1 260.4,169.6 260.8,156.9 261.2,170.0 261.6,173.5 262.0,166.7 262.2,174.5 262.6,179.3 262.7,174.8 265.7,175.4 267.2,176.4 267.4,177.8 267.6,175.8 268.2,174.8 269.0,173.1 269.4,175.0 270.3,173.5 270.9,169.6 271.5,173.9 272.1,175.4 272.5,171.5 272.7,176.0 276.4,177.0 279.3,177.8 280.7,178.2 280.9,185.2 281.1,177.8 281.3,175.4 281.4,177.8 285.1,178.4 290.0,179.0 290.5,177.5 291.0,179.0 300.0,179.3 320.0,181.0 346.0,183.0" fill="none" stroke="#1c3ca6" stroke-width="0.60" stroke-linejoin="round" stroke-opacity="1.00"/>
<polyline points="220.5,264.5 220.6,266.5 220.7,261.8 220.8,256.9 220.9,258.8 221.0,259.2 221.1,263.1 221.2,258.9 221.3,261.0 221.4,254.2 221.5,260.8 221.6,261.8 221.7,270.9 221.8,256.5 221.9,263.8 222.0,272.4 222.1,258.7 222.2,268.8 222.3,254.6 222.4,257.2 222.5,262.3 222.6,272.7 222.7,273.5 222.8,259.8 222.9,264.1 223.0,260.6 223.1,259.8 223.2,270.3 223.3,258.5 223.4,261.5 223.5,255.4 223.6,263.0 223.7,274.2 223.8,263.0 223.9,266.1 224.0,262.5 224.1,268.1 224.2,260.2 224.3,254.1 224.4,259.0 224.5,257.1 224.6,261.7 224.7,272.7 224.8,258.4 224.9,265.7 225.0,261.6 225.1,253.6 225.2,256.6 225.3,255.7 225.4,262.7 225.5,258.8 225.6,260.1 225.7,260.6 225.8,255.6 225.9,266.6 226.0,250.5 226.1,256.0 226.2,248.8 226.3,258.8 226.4,250.9 226.5,252.8 226.6,255.2 226.7,257.5 226.8,256.9 226.9,259.5 227.0,254.6 227.1,250.1 227.2,249.0 227.3,251.9 227.4,256.6 227.5,254.8 227.6,255.4 227.7,251.1 227.8,251.2 227.9,259.6 228.0,254.8 228.1,247.7 228.2,257.4 228.3,252.1 228.4,250.2 228.5,253.0 228.6,247.6 228.7,259.4 228.8,241.5 228.9,238.5 229.0,255.8 229.1,241.4 229.2,250.2 229.3,242.1 229.4,235.4 229.5,240.8 229.6,237.4 229.7,248.7 229.8,246.4 229.9,241.6 230.0,236.1 230.1,231.5 230.2,232.9 230.3,237.8 230.4,232.7 230.5,233.6 230.6,246.4 230.7,235.6 230.8,229.4 230.9,234.0 231.0,240.3 231.1,227.6 231.2,250.5 231.3,238.6 231.4,237.8 231.5,242.2 231.6,252.8 231.7,252.6 231.8,243.0 231.9,241.1 232.0,252.5 232.1,247.8 232.2,244.2 232.3,250.3 232.4,250.9 232.5,247.8 232.6,247.6 232.7,241.3 232.8,250.7 232.9,251.3 233.0,256.8 233.1,250.9 233.2,251.8 233.3,252.7 233.4,255.5 233.5,251.0 233.6,247.8 233.7,256.5 233.8,252.2 233.9,247.9 234.0,253.9 234.1,248.2 234.2,257.7 234.3,255.4 234.4,255.9 234.5,254.5 234.6,250.3 234.7,257.8 234.8,261.3 234.9,249.7 235.0,251.7 235.1,267.8 235.2,254.1 235.3,249.5 235.4,256.0 235.5,259.3 235.6,253.5 235.7,254.3 235.8,261.2 235.9,260.4 236.0,259.7 236.1,260.8 236.2,272.9 236.3,269.7 236.4,259.2 236.5,255.6 236.6,264.3 236.7,254.9 236.8,257.2 236.9,259.0 237.0,251.6 237.1,248.0 237.2,255.7 237.3,253.8 237.4,256.1 237.5,250.4 237.6,255.3 237.7,261.9 237.8,263.5 237.9,257.3 238.0,260.6 238.1,258.0 238.2,256.1 238.3,256.7 238.4,250.6 238.5,257.1 238.6,258.5 238.7,261.8 238.8,245.5 238.9,251.9 239.0,249.1 239.1,248.4 239.2,258.7 239.3,249.9 239.4,249.8 239.5,257.6 239.6,252.1 239.7,246.2 239.8,244.3 239.9,237.0 240.0,239.0 240.1,247.5 240.2,246.5 240.3,247.6 240.4,251.0 240.5,243.8 240.6,242.5 240.7,251.0 240.8,252.1 240.9,251.1 241.0,264.0 241.1,247.9 241.2,241.2 241.3,249.2 241.4,256.5 241.5,249.8 241.6,247.4 241.7,251.9 241.8,256.1 241.9,251.5 242.0,252.5 242.1,251.2 242.2,248.8 242.3,257.9 242.4,254.8 242.5,253.6 242.6,251.8 242.7,254.9 242.8,251.4 242.9,254.8 243.0,266.1 243.1,250.5 243.2,260.7 243.3,252.7 243.4,251.6 243.5,262.1 243.6,267.1 243.7,259.8 243.8,261.3 243.9,255.9 244.0,280.1 244.1,257.1 244.2,262.7 244.3,267.8 244.4,259.1 244.5,263.1 244.6,255.2 244.7,257.2 244.8,264.1 244.9,258.3 245.0,262.1 245.1,251.4 245.2,264.9 245.3,256.9 245.4,258.6 245.5,264.1 245.6,266.6 245.7,261.7 245.8,265.3 245.9,253.7 246.0,284.0 246.1,261.8 246.2,263.8 246.3,258.4 246.4,256.8 246.5,260.8 246.6,262.3 246.7,264.1 246.8,259.7 246.9,255.2 247.0,266.9 247.1,255.2 247.2,255.6 247.3,261.7 247.4,262.6 247.5,260.6 247.6,258.0 247.7,261.8 247.8,254.9 247.9,266.5 248.0,254.6 248.1,265.0 248.2,256.1 248.3,250.8 248.4,268.8 248.5,261.3 248.6,254.2 248.7,263.7 248.8,254.6 248.9,260.4 249.0,266.5 249.1,248.5 249.2,256.1 249.3,260.5 249.4,255.9 249.5,257.9 249.6,257.8 249.7,247.8 249.8,255.6 249.9,250.4 250.0,251.3 250.1,251.5 250.2,259.3 250.3,258.7 250.4,255.0 250.5,249.6 250.6,265.8 250.7,252.9 250.8,252.8 250.9,256.1 251.0,255.2 251.1,260.3 251.2,253.7 251.3,268.8 251.4,252.4 251.5,260.8 251.6,248.3 251.7,256.0 251.8,254.5 251.9,256.1 252.0,258.9 252.1,254.2 252.2,257.1 252.3,255.0 252.4,261.3 252.5,263.6 252.6,256.2 252.7,260.5 252.8,255.6 252.9,260.0 253.0,264.8 253.1,259.9 253.2,260.8 253.3,262.0 253.4,263.6 253.5,270.0 253.6,261.9 253.7,270.6 253.8,265.7 253.9,257.9 254.0,265.8 254.1,260.8 254.2,267.3 254.3,265.8 254.4,265.7 254.5,262.4 254.6,262.3 254.7,273.5 254.8,263.6 254.9,263.3 255.0,273.6 255.1,260.8 255.2,261.8 255.3,267.5 255.4,269.8 255.5,274.9 255.6,266.3 255.7,263.8 255.8,269.9 255.9,265.4 256.0,265.1 256.1,268.3 256.2,270.4 256.3,266.5 256.4,264.2 256.5,270.0 256.6,272.8 256.7,272.2 256.8,267.8 256.9,273.3 257.0,269.7 257.1,274.4 257.2,264.6 257.3,265.5 257.4,265.4 257.5,270.8 257.6,268.7 257.7,270.4 257.8,268.1 257.9,287.5 258.0,264.9 258.1,261.9 258.2,267.5 258.3,266.4 258.4,264.6 258.5,268.6 258.6,262.1 258.7,265.9 258.8,258.8 258.9,272.8 259.0,259.0 259.1,260.5 259.2,261.8 259.3,257.4 259.4,257.5 259.5,254.3 259.6,264.1 259.7,268.7 259.8,272.2 259.9,264.0 260.0,258.4 260.1,268.6 260.2,262.8 260.3,269.1 260.4,259.8 260.5,266.8 260.6,259.3 260.7,260.3 260.8,260.9 260.9,263.6 261.0,260.9 261.1,269.0 261.2,263.3 261.3,257.9 261.4,258.2 261.5,265.5 261.6,271.5 261.7,261.4 261.8,269.7 261.9,261.8 262.0,266.9 262.1,267.4 262.2,262.9 262.3,269.4 262.4,268.8 262.5,271.1 262.6,278.0 262.7,267.6 262.8,270.0 262.9,267.5 263.0,270.9 263.1,275.3 263.2,274.7 263.3,279.6 263.4,274.0 263.5,270.0 263.6,270.7 263.7,273.8 263.8,273.6 263.9,274.5 264.0,274.2 264.1,269.3 264.2,280.2 264.3,271.1 264.4,274.7 264.5,276.7 264.6,273.6 264.7,273.8 264.8,272.4 264.9,276.8 265.0,270.6 265.1,274.2 265.2,271.1 265.3,285.5 265.4,271.0 265.5,274.2 265.6,277.4 265.7,274.0 265.8,277.2 265.9,275.0 266.0,274.0 266.1,268.7 266.2,271.5 266.3,276.9 266.4,273.7 266.5,268.5 266.6,271.0 266.7,267.3 266.8,268.4 266.9,275.2 267.0,282.6 267.1,271.8 267.2,266.5 267.3,270.4 267.4,272.0 267.5,269.2 267.6,270.4 267.7,272.5 267.8,274.8 267.9,275.1 268.0,274.3 268.1,275.8 268.2,273.1 268.3,270.7 268.4,275.0 268.5,270.1 268.6,270.5 268.7,276.5 268.8,274.2 268.9,279.0 269.0,269.5 269.1,273.9 269.2,268.7 269.3,267.0 269.4,274.9 269.5,272.0 269.6,272.6 269.7,268.3 269.8,268.6 269.9,277.3 270.0,270.4 270.1,272.1 270.2,269.2 270.3,276.7 270.4,273.1 270.5,269.8 270.6,267.2 270.7,275.2 270.8,275.0 270.9,271.6 271.0,272.5 271.1,273.7 271.2,276.1 271.3,268.9 271.4,270.8 271.5,276.0 271.6,274.1 271.7,271.4 271.8,271.5 271.9,273.4 272.0,275.3 272.1,270.4 272.2,277.1 272.3,275.3 272.4,277.3 272.5,273.7 272.6,277.8 272.7,273.7 272.8,272.9 272.9,274.0 273.0,280.0 273.1,277.3 273.2,278.6 273.3,276.3 273.4,280.3 273.5,279.3 273.6,276.0 273.7,273.4 273.8,273.4 273.9,277.3 274.0,277.5 274.1,272.8 274.2,272.5 274.3,276.9 274.4,277.7 274.5,278.4 274.6,276.3 274.7,275.0 274.8,277.9 274.9,274.3 275.0,279.3 275.1,274.7 275.2,273.1 275.3,275.6 275.4,278.7 275.5,277.0 275.6,277.7 275.7,275.3 275.8,273.9 275.9,274.8 276.0,275.8 276.1,277.9 276.2,277.8 276.3,276.5 276.4,273.4 276.5,273.5 276.6,272.5 276.7,275.6 276.8,275.4 276.9,279.0 277.0,278.2 277.1,280.7 277.2,278.3 277.3,277.0 277.4,277.3 277.5,280.4 277.6,280.9 277.7,276.0 277.8,279.6 277.9,275.8 278.0,277.2 278.1,278.4 278.2,277.8 278.3,276.0 278.4,278.2 278.5,276.4 278.6,275.4 278.7,274.9 278.8,278.3 278.9,275.5 279.0,277.5 279.1,281.3 279.2,279.6 279.3,280.3 279.4,279.6 279.5,278.3 279.6,280.8 279.7,276.2 279.8,277.5 279.9,275.7 280.0,275.3 280.1,275.6 280.2,275.6 280.3,275.6 280.4,278.2 280.5,277.7 280.6,278.1 280.7,276.3 280.8,277.0 280.9,277.7 281.0,279.8 281.1,278.1 281.2,276.8 281.3,276.6 281.4,280.2 281.5,279.5 281.6,277.5 281.7,277.6 281.8,277.4 281.9,278.7 282.0,277.6 282.1,276.5 282.2,276.4 282.3,279.0 282.4,278.4 282.5,276.5 282.6,278.2 282.7,276.4 282.8,276.8 282.9,278.3 283.0,277.9 283.1,277.7 283.2,278.2 283.3,278.4 283.4,277.9 283.5,280.2 283.6,280.5 283.7,279.1 283.8,278.5 283.9,279.1 284.0,277.8 284.1,279.1 284.2,277.4 284.3,280.3 284.4,278.9 284.5,279.8 284.6,276.4 284.7,280.4 284.8,278.2 284.9,277.8 285.0,281.7 285.1,277.1 285.2,277.5 285.3,279.8 285.4,279.0 285.5,277.6 285.6,279.5 285.7,278.1 285.8,278.8 285.9,278.4 286.0,279.5 286.1,278.4 286.2,278.1 286.3,278.2 286.4,277.8 286.5,277.3 286.6,278.9 286.7,278.3 286.8,277.4 286.9,279.0 287.0,279.2 287.1,278.2 287.2,278.5 287.3,279.6 287.4,277.9 287.5,278.1 287.6,277.6 287.7,278.6 287.8,278.2 287.9,277.0 288.0,277.2 288.1,277.5 288.2,277.5 288.3,278.1 288.4,278.8 288.5,277.2 288.6,278.6 288.7,277.1 288.8,278.2 288.9,277.9 289.0,277.6 289.1,278.4 289.2,277.7 289.3,277.2 289.4,278.8 289.5,277.9 289.6,278.6 289.7,277.7 289.8,277.8 289.9,278.5 290.0,278.2 290.1,277.6 290.2,278.0 290.3,278.0 290.4,277.9 290.5,278.9 290.6,278.4 290.7,278.4 290.8,279.1 290.9,278.1 291.0,277.4 291.1,279.5 291.2,278.4 291.3,278.9 291.4,278.6 291.5,278.4 291.6,277.8 291.7,278.3 291.8,278.3 291.9,277.9 292.0,278.3 292.1,278.2 292.2,279.0 292.3,278.0 292.4,278.6 292.5,278.0 292.6,278.2 292.7,279.2 292.8,278.5 292.9,277.6 293.0,277.6 293.1,278.2 293.2,277.5 293.3,278.6 293.4,278.7 293.5,277.9 293.6,277.9 293.7,278.1 293.8,278.3 293.9,278.3 294.0,278.8 294.1,277.8 294.2,277.8 294.3,278.2 294.4,278.6 294.5,278.1 294.6,278.8 294.7,278.6 294.8,277.7 294.9,277.9 295.0,278.2 295.1,278.4 295.2,278.1 295.3,278.2 295.4,278.2 295.5,278.5 295.6,278.1 295.7,278.2 295.8,278.2 295.9,278.2 296.0,278.7 296.1,277.9 296.2,278.0 296.3,278.3 296.4,277.7 296.5,278.5 296.6,278.4 296.7,278.2 296.8,277.9 296.9,278.6 297.0,277.8 297.1,277.7 297.2,277.9 297.3,277.6 297.4,278.0 297.5,278.1 297.6,278.3 297.7,278.0 297.8,277.8 297.9,277.9 298.0,278.0 298.1,278.1 298.2,277.8 298.3,278.0 298.4,278.0 298.5,278.3 298.6,278.2 298.7,278.0 298.8,277.8 298.9,278.3 299.0,278.2 299.1,277.9 299.2,277.9 299.3,277.8 299.4,278.0 299.5,277.9 299.6,278.0 299.7,278.0 299.8,278.1 299.9,277.9 300.0,277.8 300.1,277.9 300.2,278.0 300.3,278.1 300.4,278.1 300.5,277.9 300.6,278.1 300.7,278.3 300.8,278.0 300.9,278.1 301.0,278.0 301.1,278.3 301.2,278.2 301.3,278.1 301.4,278.2 301.5,278.2 301.6,278.0 301.7,278.1 301.8,278.1 301.9,278.1 302.0,278.1 302.1,278.1 302.2,278.2 302.3,278.3 302.4,278.2 302.5,278.3 302.6,278.3 302.7,278.2 302.8,278.3 302.9,278.5 303.0,278.3 303.1,278.3 303.2,278.3 303.3,278.4 303.4,278.3 303.5,278.3 303.6,278.4 303.7,278.4 303.8,278.4 303.9,278.4 304.0,278.4" fill="none" stroke="#2c48a4" stroke-width="0.60" stroke-linejoin="round" stroke-opacity="1.00"/>
<polyline points="303.1,278.3 303.9,278.4 304.7,278.5 305.5,278.5 306.3,278.6 307.1,278.7 307.9,278.8 308.7,278.9 309.5,278.9 310.3,279.0 311.1,279.1 311.9,279.2 312.7,279.3 313.5,279.3 314.3,279.4 315.1,279.5 315.9,279.6 316.7,279.7 317.5,279.7 318.3,279.8 319.1,279.9 319.9,280.0 320.7,280.1 321.5,280.1 322.3,280.2 323.1,280.3 323.9,280.4 324.7,280.4 325.5,280.5 326.3,280.6 327.1,280.7 327.9,280.7 328.7,280.8 329.5,280.9 330.3,281.0 331.1,281.0 331.9,281.1 332.7,281.2 333.5,281.2 334.3,281.3 335.1,281.4 335.9,281.5 336.7,281.5 337.5,281.6 338.3,281.7 339.1,281.8 339.9,281.8 340.7,281.9 341.5,282.0 342.3,282.1 343.1,282.1 343.9,282.2 344.7,282.3 345.5,282.4" fill="none" stroke="#2f4fae" stroke-width="0.75" stroke-linejoin="round" stroke-opacity="1.00"/>
<polyline points="220.5,351.9 220.6,341.2 220.7,349.0 220.8,343.8 220.9,337.5 221.0,346.5 221.0,349.0 221.1,339.4 221.2,346.6 221.3,354.3 221.4,340.5 221.5,344.2 221.6,338.1 221.7,338.6 221.8,343.1 221.9,341.7 221.9,342.9 222.0,345.2 222.1,346.5 222.2,350.9 222.3,344.2 222.4,343.1 222.5,339.4 222.6,337.2 222.7,343.2 222.8,336.8 222.8,342.8 222.9,333.8 223.0,347.8 223.1,340.4 223.2,340.0 223.3,340.9 223.4,344.4 223.5,339.7 223.6,343.7 223.7,335.7 223.7,333.7 223.8,339.3 223.9,338.1 224.0,336.5 224.1,338.0 224.2,344.3 224.3,332.7 224.4,336.4 224.5,336.9 224.6,334.5 224.6,337.9 224.7,334.2 224.8,333.2 224.9,338.3 225.0,335.3 225.1,331.3 225.2,340.9 225.3,337.9 225.4,337.0 225.5,333.3 225.5,333.5 225.6,335.5 225.7,335.1 225.8,339.0 225.9,331.5 226.0,332.4 226.1,335.7 226.2,332.9 226.3,329.6 226.4,334.8 226.4,330.5 226.5,334.8 226.6,332.2 226.7,339.3 226.8,329.8 226.9,340.2 227.0,328.0 227.1,337.0 227.2,330.4 227.3,328.7 227.3,333.2 227.4,332.8 227.5,333.5 227.6,332.7 227.7,337.9 227.8,339.1 227.9,328.3 228.0,333.1 228.1,331.5 228.2,326.1 228.2,331.9 228.3,333.2 228.4,327.0 228.5,327.5 228.6,324.0 228.7,329.4 228.8,328.1 228.9,331.4 229.0,332.1 229.1,327.2 229.1,326.4 229.2,330.3 229.3,327.3 229.4,328.0 229.5,327.9 229.6,327.0 229.7,337.2 229.8,325.5 229.9,322.7 230.0,322.1 230.0,325.5 230.1,327.9 230.2,323.5 230.3,322.6 230.4,329.7 230.5,325.1 230.6,328.3 230.7,330.8 230.8,325.8 230.9,337.7 230.9,326.2 231.0,329.8 231.1,332.0 231.2,327.5 231.3,330.3 231.4,328.3 231.5,323.0 231.6,334.2 231.7,330.8 231.8,325.8 231.8,331.6 231.9,333.3 232.0,332.2 232.1,328.2 232.2,335.1 232.3,333.0 232.4,328.4 232.5,333.7 232.6,326.8 232.7,328.3 232.7,329.6 232.8,333.0 232.9,327.4 233.0,330.4 233.1,336.0 233.2,336.8 233.3,339.0 233.4,336.9 233.5,330.4 233.6,329.9 233.6,334.3 233.7,329.1 233.8,328.7 233.9,333.9 234.0,330.1 234.1,331.0 234.2,331.5 234.3,329.6 234.4,329.2 234.5,329.2 234.5,328.5 234.6,330.1 234.7,332.7 234.8,331.5 234.9,336.5 235.0,328.2 235.1,332.5 235.2,337.2 235.3,326.9 235.4,329.4 235.4,330.3 235.5,330.2 235.6,331.2 235.7,332.2 235.8,331.8 235.9,332.6 236.0,331.9 236.1,330.3 236.2,330.5 236.3,335.8 236.3,334.2 236.4,329.9 236.5,331.1 236.6,337.0 236.7,332.4 236.8,332.0 236.9,331.4 237.0,333.2 237.1,335.6 237.2,337.5 237.2,328.6 237.3,336.9 237.4,330.5 237.5,331.7 237.6,332.4 237.7,335.1 237.8,331.7 237.9,329.9 238.0,338.4 238.1,335.0 238.1,335.4 238.2,334.0 238.3,332.6 238.4,331.1 238.5,331.0 238.6,336.3 238.7,328.2 238.8,331.7 238.9,336.5 239.0,329.7 239.0,335.1 239.1,331.7 239.2,335.4 239.3,330.5 239.4,331.4 239.5,332.4 239.6,332.8 239.7,332.5 239.8,333.2 239.9,340.6 239.9,333.6 240.0,333.8 240.1,330.3 240.2,333.7 240.3,332.0 240.4,331.7 240.5,335.5 240.6,327.1 240.7,332.9 240.8,330.2 240.8,338.5 240.9,334.4 241.0,329.4 241.1,330.5 241.2,339.2 241.3,332.2 241.4,332.5 241.5,338.4 241.6,336.7 241.7,328.9 241.7,337.2 241.8,332.9 241.9,332.0 242.0,335.6 242.1,338.7 242.2,333.0 242.3,326.3 242.4,332.0 242.5,333.8 242.6,331.8 242.6,337.0 242.7,333.4 242.8,336.3 242.9,332.2 243.0,335.1 243.1,332.4 243.2,331.5 243.3,329.4 243.4,337.1 243.5,332.0 243.5,335.8 243.6,335.7 243.7,336.6 243.8,337.8 243.9,331.5 244.0,338.2 244.1,333.2 244.2,332.6 244.3,331.3 244.4,334.2 244.4,334.4 244.5,336.3 244.6,340.3 244.7,331.7 244.8,334.6 244.9,331.3 245.0,331.6 245.1,337.3 245.2,335.8 245.3,333.1 245.3,331.8 245.4,333.9 245.5,338.6 245.6,332.1 245.7,335.4 245.8,334.3 245.9,331.0 246.0,335.3 246.1,334.2 246.2,334.1 246.2,340.5 246.3,334.5 246.4,338.8 246.5,343.6 246.6,334.7 246.7,334.6 246.8,338.5 246.9,333.5 247.0,337.7 247.1,336.5 247.1,333.1 247.2,336.4 247.3,335.9 247.4,337.3 247.5,334.1 247.6,335.6 247.7,344.3 247.8,333.1 247.9,337.6 248.0,337.6 248.0,335.3 248.1,336.4 248.2,335.1 248.3,336.5 248.4,336.0 248.5,334.7 248.6,336.6 248.7,336.8 248.8,342.8 248.9,336.7 248.9,345.2 249.0,341.0 249.1,335.6 249.2,337.6 249.3,336.7 249.4,333.8 249.5,337.7 249.6,335.7 249.7,338.3 249.8,343.0 249.8,335.0 249.9,340.5 250.0,334.6 250.1,341.2 250.2,336.5 250.3,337.4 250.4,336.6 250.5,338.4 250.6,339.9 250.7,336.3 250.7,339.4 250.8,337.0 250.9,342.0 251.0,337.5 251.1,334.9 251.2,345.5 251.3,336.4 251.4,344.8 251.5,339.1 251.6,340.5 251.6,337.3 251.7,336.7 251.8,340.0 251.9,335.4 252.0,349.0 252.1,339.8 252.2,341.4 252.3,337.7 252.4,338.4 252.5,333.9 252.5,335.6 252.6,345.5 252.7,337.3 252.8,339.7 252.9,336.5 253.0,341.3 253.1,343.6 253.2,340.5 253.3,336.2 253.4,341.2 253.4,337.6 253.5,337.0 253.6,347.8 253.7,339.4 253.8,337.9 253.9,334.8 254.0,339.8 254.1,342.8 254.2,343.4 254.3,336.1 254.3,338.5 254.4,341.4 254.5,338.5 254.6,339.7 254.7,337.4 254.8,335.0 254.9,335.6 255.0,333.5 255.1,344.2 255.2,339.5 255.2,337.1 255.3,342.5 255.4,335.8 255.5,336.6 255.6,336.0 255.7,338.8 255.8,340.8 255.9,340.3 256.0,346.4 256.1,341.8 256.1,339.6 256.2,336.4 256.3,343.1 256.4,339.4 256.5,339.9 256.6,345.1 256.7,341.5 256.8,340.3 256.9,342.6 257.0,338.1 257.0,338.8 257.1,340.2 257.2,342.7 257.3,343.3 257.4,340.5 257.5,337.7 257.6,338.3 257.7,341.4 257.8,336.3 257.9,342.8 257.9,344.9 258.0,343.0 258.1,340.6 258.2,340.1 258.3,338.9 258.4,342.1 258.5,348.8 258.6,341.8 258.7,340.1 258.8,341.2 258.8,341.2 258.9,344.6 259.0,343.1 259.1,339.1 259.2,342.2 259.3,342.5 259.4,345.1 259.5,340.4 259.6,348.2 259.7,340.8 259.7,340.5 259.8,343.9 259.9,348.7 260.0,342.3 260.1,341.5 260.2,339.3 260.3,342.3 260.4,342.0 260.5,344.5 260.6,339.4 260.6,344.5 260.7,341.1 260.8,338.8 260.9,340.9 261.0,339.8 261.1,343.1 261.2,337.5 261.3,345.6 261.4,340.1 261.5,339.0 261.5,346.7 261.6,345.6 261.7,341.6 261.8,341.2 261.9,360.0 262.0,341.5 262.1,346.9 262.2,346.6 262.3,342.0 262.4,339.2 262.4,347.4 262.5,340.4 262.6,345.1 262.7,346.7 262.8,343.6 262.9,347.2 263.0,342.4 263.1,343.9 263.2,345.6 263.3,343.4 263.3,341.9 263.4,347.1 263.5,345.3 263.6,344.3 263.7,343.5 263.8,339.8 263.9,342.6 264.0,342.8 264.1,341.2 264.2,341.3 264.2,346.0 264.3,339.7 264.4,344.5 264.5,347.1 264.6,344.2 264.7,343.9 264.8,344.4 264.9,349.2 265.0,344.9 265.1,346.7 265.1,345.0 265.2,343.6 265.3,345.6 265.4,350.1 265.5,343.5 265.6,344.9 265.7,344.3 265.8,347.4 265.9,341.2 266.0,352.3 266.0,345.2 266.1,342.6 266.2,348.8 266.3,353.4 266.4,349.6 266.5,347.6 266.6,344.9 266.7,346.6 266.8,349.0 266.9,347.0 266.9,345.4 267.0,348.1 267.1,343.7 267.2,349.1 267.3,347.1 267.4,347.2 267.5,341.0 267.6,340.9 267.7,341.6 267.8,348.5 267.8,341.2 267.9,346.8 268.0,347.0 268.1,347.0 268.2,344.7 268.3,346.0 268.4,344.5 268.5,353.1 268.6,345.9 268.7,345.9 268.7,351.2 268.8,346.1 268.9,347.7 269.0,346.7 269.1,357.3 269.2,347.7 269.3,345.3 269.4,345.9 269.5,355.8 269.6,346.1 269.6,345.8 269.7,347.0 269.8,342.7 269.9,348.0 270.0,347.0 270.1,350.8 270.2,349.4 270.3,354.7 270.4,344.9 270.5,344.7 270.5,343.1 270.6,348.0 270.7,348.5 270.8,346.0 270.9,344.5 271.0,342.2 271.1,347.2 271.2,350.0 271.3,351.8 271.4,356.1 271.4,353.9 271.5,348.6 271.6,353.4 271.7,347.6 271.8,346.9 271.9,344.1 272.0,348.8 272.1,344.9 272.2,346.4 272.3,354.3 272.3,349.5 272.4,345.3 272.5,348.6 272.6,349.3 272.7,345.5 272.8,344.2 272.9,346.1 273.0,350.8 273.1,356.3 273.2,345.3 273.2,349.7 273.3,346.7 273.4,351.7 273.5,344.2 273.6,351.6 273.7,346.9 273.8,346.5 273.9,348.9 274.0,347.7 274.1,348.0 274.1,349.7 274.2,349.5 274.3,348.1 274.4,346.6 274.5,348.9 274.6,349.1 274.7,345.2 274.8,347.0 274.9,353.8 275.0,344.2 275.0,351.0 275.1,348.6 275.2,348.0 275.3,350.6 275.4,352.4 275.5,345.8 275.6,346.5 275.7,347.1 275.8,347.0 275.9,351.8 275.9,353.6 276.0,351.0 276.1,348.7 276.2,353.9 276.3,349.7 276.4,351.5 276.5,354.1 276.6,354.0 276.7,352.1 276.8,351.1 276.8,355.6 276.9,350.0 277.0,350.9 277.1,350.1 277.2,347.6 277.3,352.3 277.4,354.2 277.5,348.7 277.6,350.8 277.7,348.2 277.7,351.5 277.8,351.7 277.9,350.8 278.0,347.3 278.1,346.5 278.2,353.6 278.3,346.6 278.4,351.3 278.5,346.2 278.6,347.8 278.6,353.0 278.7,349.1 278.8,350.2 278.9,352.1 279.0,353.5 279.1,350.9 279.2,350.2 279.3,352.3 279.4,349.6 279.5,350.5 279.5,349.9 279.6,352.6 279.7,353.3 279.8,350.7 279.9,350.3 280.0,350.0 280.1,353.1 280.2,353.0 280.3,359.2 280.4,349.1 280.4,352.0 280.5,351.1 280.6,348.6 280.7,354.8 280.8,351.7 280.9,351.7 281.0,352.5 281.1,350.0 281.2,354.8 281.3,357.0 281.3,349.5 281.4,356.3 281.5,355.4 281.6,350.6 281.7,346.4 281.8,351.9 281.9,354.8 282.0,349.2 282.1,350.9 282.2,351.1 282.2,353.0 282.3,358.1 282.4,351.9 282.5,353.8 282.6,355.5 282.7,355.1 282.8,351.1 282.9,356.4 283.0,357.7 283.1,352.9 283.1,350.9 283.2,351.9 283.3,356.7 283.4,351.7 283.5,353.3 283.6,352.0 283.7,355.3 283.8,351.2 283.9,355.1 284.0,351.7 284.0,352.6 284.1,356.0 284.2,354.0 284.3,349.8 284.4,360.9 284.5,352.9 284.6,355.9 284.7,353.5 284.8,354.6 284.9,358.9 284.9,351.5 285.0,355.1 285.1,355.5 285.2,355.0 285.3,357.1 285.4,353.2 285.5,349.5 285.6,354.1 285.7,353.9 285.8,354.4 285.8,352.2 285.9,355.9 286.0,355.0 286.1,354.7 286.2,354.3 286.3,355.3 286.4,363.5 286.5,352.5 286.6,354.0 286.7,352.3 286.7,353.3 286.8,358.3 286.9,354.1 287.0,362.6 287.1,354.0 287.2,356.0 287.3,358.0 287.4,353.6 287.5,355.3 287.6,360.3 287.6,354.4 287.7,357.0 287.8,356.5 287.9,355.2 288.0,350.6 288.1,355.0 288.2,353.7 288.3,358.3 288.4,357.0 288.5,355.0 288.5,351.9 288.6,359.6 288.7,356.0 288.8,354.1 288.9,351.9 289.0,357.0 289.1,356.7 289.2,355.8 289.3,361.0 289.4,353.9 289.4,359.2 289.5,353.2 289.6,355.7 289.7,354.9 289.8,355.8 289.9,359.0 290.0,355.9 290.1,356.1 290.2,355.0 290.3,360.5 290.3,357.8 290.4,359.8 290.5,352.4 290.6,357.5 290.7,352.4 290.8,354.8 290.9,357.0 291.0,355.5 291.1,361.7 291.2,353.8 291.2,359.2 291.3,358.5 291.4,356.5 291.5,353.2 291.6,361.4 291.7,362.0 291.8,357.1 291.9,355.8 292.0,358.6 292.1,361.1 292.1,355.7 292.2,355.6 292.3,354.9 292.4,357.6 292.5,354.5 292.6,361.3 292.7,361.6 292.8,356.7 292.9,355.1 293.0,355.6 293.0,356.9 293.1,359.2 293.2,357.7 293.3,358.6 293.4,360.6 293.5,361.3 293.6,360.8 293.7,353.1 293.8,355.2 293.9,352.2 293.9,357.8 294.0,359.5 294.1,358.4 294.2,357.8 294.3,355.9 294.4,364.6 294.5,358.6 294.6,355.6 294.7,357.1 294.8,365.5 294.8,358.2 294.9,357.0 295.0,356.1 295.1,356.0 295.2,362.3 295.3,359.4 295.4,359.5 295.5,359.6 295.6,363.1 295.7,358.6 295.7,365.4 295.8,355.9 295.9,360.5 296.0,358.8 296.1,356.2 296.2,358.3 296.3,362.6 296.4,361.7 296.5,361.6 296.6,358.3 296.6,361.3 296.7,362.3 296.8,358.3 296.9,359.2 297.0,359.6 297.1,362.0 297.2,360.8 297.3,360.6 297.4,359.4 297.5,360.6 297.5,357.2 297.6,360.7 297.7,359.3 297.8,360.4 297.9,358.4 298.0,361.4 298.1,362.6 298.2,361.5 298.3,363.0 298.4,361.9 298.4,361.8 298.5,359.9 298.6,357.1 298.7,364.2 298.8,360.9 298.9,357.9 299.0,359.5 299.1,360.4 299.2,357.3 299.3,361.5 299.3,364.5 299.4,360.9 299.5,358.8 299.6,362.8 299.7,359.4 299.8,365.1 299.9,360.5 300.0,359.9 300.1,371.9 300.2,360.1 300.2,364.1 300.3,360.2 300.4,362.1 300.5,359.5 300.6,359.1 300.7,360.9 300.8,361.8 300.9,361.5 301.0,359.2 301.1,360.6 301.1,361.1 301.2,361.4 301.3,361.1 301.4,360.1 301.5,365.8 301.6,358.7 301.7,361.6 301.8,360.3 301.9,361.0 302.0,365.6 302.0,364.7 302.1,360.8 302.2,364.0 302.3,363.3 302.4,365.1 302.5,360.9 302.6,360.8 302.7,365.2 302.8,360.7 302.9,366.7 302.9,361.6 303.0,363.7 303.1,367.5 303.2,364.2 303.3,362.6 303.4,361.3 303.5,362.9 303.6,367.7 303.7,360.9 303.8,368.2 303.8,364.6 303.9,366.9 304.0,359.9 304.1,364.2 304.2,363.8 304.3,361.7 304.4,365.6 304.5,363.8 304.6,359.9 304.7,359.1 304.7,360.7 304.8,361.3 304.9,363.1 305.0,364.1 305.1,362.0 305.2,363.7 305.3,363.0 305.4,361.3 305.5,359.9 305.6,361.7 305.6,365.2 305.7,362.2 305.8,360.9 305.9,368.8 306.0,362.0 306.1,362.3 306.2,365.8 306.3,363.0 306.4,363.2 306.5,364.0 306.5,361.7 306.6,362.3 306.7,363.4 306.8,361.9 306.9,361.3 307.0,366.7 307.1,367.7 307.2,361.9 307.3,367.1 307.4,365.5 307.4,368.9 307.5,363.5 307.6,359.5 307.7,367.2 307.8,360.0 307.9,368.2 308.0,362.6 308.1,364.2 308.2,362.0 308.3,365.6 308.3,361.4 308.4,363.9 308.5,367.8 308.6,358.1 308.7,369.4 308.8,362.5 308.9,367.5 309.0,364.0 309.1,365.9 309.2,364.8 309.2,361.8 309.3,369.4 309.4,365.3 309.5,363.4 309.6,363.5 309.7,365.7 309.8,369.1 309.9,369.9 310.0,364.1 310.1,361.2 310.1,365.5 310.2,368.1 310.3,362.7 310.4,362.4 310.5,364.1 310.6,365.7 310.7,362.1 310.8,365.5 310.9,363.8 311.0,366.3 311.0,362.9 311.1,366.4 311.2,363.0 311.3,363.6 311.4,362.6 311.5,363.6 311.6,366.9 311.7,365.2 311.8,363.8 311.9,363.3 311.9,366.5 312.0,363.8 312.1,365.3 312.2,364.7 312.3,365.2 312.4,371.4 312.5,367.7 312.6,366.2 312.7,364.8 312.8,367.7 312.8,368.2 312.9,368.4 313.0,364.4 313.1,365.2 313.2,365.4 313.3,368.8 313.4,363.9 313.5,366.4 313.6,374.2 313.7,370.0 313.7,367.0 313.8,367.2 313.9,367.6 314.0,369.8 314.1,363.7 314.2,367.1 314.3,365.1 314.4,370.3 314.5,366.7 314.6,367.1 314.6,363.7 314.7,372.7 314.8,371.2 314.9,373.6 315.0,364.9 315.1,366.2 315.2,364.7 315.3,367.3 315.4,366.4 315.5,363.2 315.5,367.7 315.6,364.8 315.7,364.9 315.8,370.7 315.9,368.5 316.0,364.9 316.1,365.5 316.2,366.6 316.3,367.7 316.4,365.1 316.4,366.5 316.5,365.0 316.6,366.2 316.7,365.2 316.8,365.0 316.9,377.8 317.0,367.4 317.1,365.0 317.2,365.9 317.3,365.0 317.3,364.4 317.4,369.9 317.5,370.3 317.6,368.1 317.7,367.1 317.8,365.1 317.9,367.3 318.0,368.1 318.1,363.5 318.2,363.2 318.2,366.0 318.3,367.3 318.4,367.1 318.5,366.6 318.6,374.2 318.7,366.3 318.8,366.6 318.9,365.6 319.0,367.8 319.1,365.6 319.1,364.7 319.2,372.6 319.3,366.5 319.4,367.2 319.5,365.8 319.6,369.2 319.7,365.7 319.8,364.4 319.9,367.4 320.0,367.9 320.0,370.6 320.1,365.6 320.2,365.5 320.3,367.7 320.4,364.8 320.5,368.5 320.6,367.4 320.7,369.0 320.8,365.4 320.9,367.7 320.9,366.7 321.0,365.7 321.1,364.1 321.2,366.7 321.3,369.2 321.4,365.9 321.5,364.5 321.6,368.3 321.7,363.7 321.8,364.9 321.8,365.6 321.9,366.8 322.0,364.9 322.1,366.1 322.2,369.2 322.3,365.9 322.4,367.6 322.5,365.9 322.6,367.2 322.7,368.0 322.7,366.9 322.8,365.9 322.9,364.8 323.0,369.9 323.1,365.1 323.2,365.3 323.3,367.5 323.4,370.1 323.5,371.6 323.6,370.8 323.6,366.9 323.7,365.5 323.8,366.2 323.9,366.6 324.0,366.3 324.1,369.1 324.2,365.9 324.3,366.3 324.4,364.7 324.5,368.6 324.5,366.1 324.6,366.1 324.7,366.2 324.8,367.2 324.9,367.2 325.0,368.4 325.1,367.6 325.2,363.7 325.3,366.0 325.4,366.1 325.4,365.3 325.5,366.3 325.6,365.7 325.7,368.8 325.8,367.9 325.9,367.6 326.0,364.8 326.1,367.1 326.2,365.5 326.3,367.7 326.3,366.6 326.4,365.9 326.5,366.2 326.6,367.3 326.7,373.2 326.8,368.2 326.9,367.3 327.0,364.7 327.1,367.4 327.2,365.3 327.2,365.4 327.3,367.2 327.4,365.9 327.5,365.1 327.6,368.2 327.7,367.3 327.8,367.6 327.9,366.1 328.0,366.8 328.1,366.7 328.1,365.5 328.2,366.6 328.3,367.2 328.4,366.4 328.5,366.1 328.6,368.4 328.7,365.0 328.8,366.9 328.9,366.8 329.0,366.0 329.0,365.7 329.1,366.3 329.2,365.9 329.3,367.0 329.4,367.6 329.5,365.9 329.6,366.2 329.7,365.8 329.8,368.0 329.9,366.4 329.9,365.4 330.0,367.0 330.1,366.5 330.2,367.2 330.3,367.3 330.4,366.9 330.5,366.1 330.6,368.4 330.7,367.7 330.8,366.8 330.8,367.0 330.9,366.1 331.0,366.7 331.1,369.3 331.2,368.8 331.3,366.6 331.4,366.2 331.5,367.1 331.6,367.0 331.7,365.9 331.7,368.7 331.8,367.0 331.9,366.8 332.0,366.4 332.1,367.0 332.2,367.2 332.3,366.1 332.4,367.8 332.5,368.2 332.6,367.4 332.6,366.1 332.7,366.8 332.8,366.6 332.9,367.1 333.0,366.4 333.1,367.8 333.2,366.7 333.3,367.0 333.4,366.2 333.5,366.0 333.5,367.3 333.6,366.3 333.7,366.5 333.8,366.6 333.9,366.3 334.0,367.0 334.1,366.8 334.2,367.2 334.3,367.0 334.4,366.4 334.4,366.7 334.5,366.8 334.6,367.0 334.7,366.7 334.8,366.8 334.9,366.4 335.0,366.8 335.1,367.0 335.2,367.9 335.3,367.4 335.3,367.2 335.4,367.6 335.5,367.2 335.6,367.1 335.7,367.1 335.8,367.0 335.9,366.5 336.0,367.5 336.1,366.7 336.2,367.1 336.2,366.6 336.3,366.6 336.4,367.2 336.5,366.9 336.6,366.9 336.7,366.7 336.8,367.0 336.9,366.3 337.0,366.7 337.1,366.9 337.1,366.6 337.2,367.0 337.3,366.5 337.4,367.0 337.5,367.1 337.6,366.8 337.7,366.8 337.8,367.2 337.9,367.2 338.0,366.6 338.0,366.7 338.1,366.8 338.2,366.9 338.3,366.6 338.4,366.9 338.5,367.2 338.6,367.1 338.7,366.9 338.8,367.0 338.9,366.8 338.9,367.1 339.0,366.9 339.1,366.9 339.2,367.0 339.3,367.0 339.4,367.1 339.5,367.0 339.6,366.9 339.7,366.9 339.8,366.8 339.8,366.8 339.9,367.1 340.0,366.9 340.1,366.9 340.2,367.0 340.3,367.0 340.4,367.1 340.5,367.1 340.6,367.0 340.7,367.1 340.7,367.1 340.8,367.0 340.9,367.0 341.0,367.0 341.1,367.0 341.2,367.0 341.3,367.0 341.4,367.1 341.5,367.0 341.6,366.9 341.6,367.0 341.7,367.1 341.8,367.0 341.9,367.0" fill="none" stroke="#2c48a4" stroke-width="0.60" stroke-linejoin="round" stroke-opacity="1.00"/>
<polyline points="341.6,366.9 342.3,367.0 343.0,367.1 343.7,367.1 344.4,367.1 345.2,367.1 345.9,367.1" fill="none" stroke="#2f4fae" stroke-width="0.75" stroke-linejoin="round" stroke-opacity="1.00"/>
<circle cx="414.4" cy="89.5" r="0.7" fill="#2238c8"/>
<polygon points="415.2,178.3 416.6,175.0 419.0,172.9 421.9,172.1 425.7,173.1 429.5,175.0 431.8,177.3 432.3,179.2 430.9,180.9 427.6,181.9 422.8,182.6 418.5,183.2 416.2,181.6 415.2,179.2" fill="none" stroke="#2d50b2" stroke-width="0.95" stroke-linejoin="round"/>
<path d="M429.8 264.5h0M440.6 258.2h0M411.7 277.3h0M421.4 276.2h0M431.5 271.6h0M435.2 266.1h0M431.7 266.8h0M439.4 273.2h0M438.0 259.0h0M421.6 273.1h0M412.2 273.2h0M438.4 258.4h0M424.5 277.7h0M427.9 270.3h0M424.5 265.4h0M442.4 271.0h0M427.2 267.6h0M419.8 276.6h0M441.9 273.1h0M440.3 274.2h0M429.2 264.2h0M437.8 267.4h0M436.8 259.4h0M415.6 278.5h0M434.3 264.1h0M431.7 261.7h0M414.8 278.7h0M428.6 268.8h0M439.6 259.5h0M436.8 269.5h0M426.4 270.9h0M428.9 273.0h0M415.7 273.6h0M440.8 259.2h0M429.1 263.8h0M421.8 273.8h0M430.5 266.5h0M422.3 271.2h0M411.5 275.3h0M435.5 266.1h0M412.5 277.4h0M438.1 262.5h0M413.9 276.3h0M428.3 276.7h0M422.7 276.6h0M433.5 265.5h0M412.6 274.3h0M434.8 262.3h0M420.8 266.9h0M427.6 268.1h0M418.6 270.2h0M442.5 265.1h0M436.8 271.7h0M435.3 273.0h0M433.2 272.7h0M437.3 261.6h0M419.8 274.0h0M428.3 264.9h0M419.9 272.5h0M435.0 262.6h0M427.2 267.1h0M417.8 279.6h0M414.9 276.3h0M418.6 278.3h0M428.2 266.7h0M421.7 276.8h0M414.4 279.1h0M443.4 262.5h0M431.8 264.4h0M413.8 276.7h0M444.6 261.5h0M411.8 274.0h0M437.8 271.8h0M411.8 279.1h0M427.5 263.9h0M419.6 272.1h0M430.6 265.3h0M443.5 267.9h0M437.7 265.7h0M429.4 264.8h0M427.5 270.3h0M426.9 269.3h0M433.9 262.9h0M419.3 271.5h0M429.4 270.2h0M418.3 270.6h0M436.1 263.0h0M428.4 272.5h0M422.5 265.9h0M417.3 275.7h0M440.3 261.0h0M444.5 263.6h0M424.0 264.7h0M412.3 278.9h0M419.7 273.6h0M445.3 265.0h0M416.8 275.9h0M432.5 263.5h0M423.4 275.3h0M417.3 274.6h0M436.3 266.6h0M425.4 271.1h0M423.8 274.2h0M415.7 278.0h0M418.6 276.0h0M423.8 277.5h0M432.9 260.7h0M419.4 270.6h0M422.1 272.6h0M439.4 269.2h0M430.4 271.6h0M416.1 273.1h0M417.3 273.9h0M425.7 276.3h0M442.7 267.0h0M413.3 271.2h0M433.0 276.4h0M439.1 260.8h0M424.8 268.5h0M430.4 271.3h0M425.5 270.1h0M434.4 266.6h0M437.1 275.2h0M423.0 274.7h0M444.0 260.4h0M428.7 263.3h0M434.6 263.1h0M432.8 266.2h0M443.1 258.4h0M418.3 270.2h0M417.6 271.2h0M415.0 279.4h0M438.9 265.5h0M412.2 275.3h0M440.1 259.5h0M427.2 274.3h0M422.4 274.5h0M441.3 273.5h0M429.4 261.9h0M427.4 276.8h0M431.1 263.0h0M443.7 258.8h0M413.9 279.2h0M411.5 273.0h0M435.8 274.2h0M412.4 277.6h0M433.4 262.5h0M413.6 274.7h0M421.8 266.0h0M436.5 264.6h0M422.8 273.3h0M418.0 277.4h0M440.3 259.4h0M428.2 275.7h0M435.9 268.0h0M433.2 264.2h0M424.6 278.2h0M443.3 268.0h0M433.9 264.1h0M415.7 276.9h0M437.5 259.4h0M438.6 270.1h0M427.1 278.0h0M437.1 266.3h0M433.4 267.0h0M437.7 266.0h0M435.1 271.7h0M421.6 271.3h0M425.5 275.3h0M433.3 261.5h0M426.8 271.2h0M416.8 272.0h0M417.8 272.8h0M425.6 273.2h0M439.7 265.2h0M414.8 275.2h0M433.5 267.2h0M440.2 267.2h0M436.7 262.3h0M421.2 267.5h0M433.6 272.1h0M412.1 276.5h0M434.3 261.5h0M438.7 264.0h0M416.2 278.2h0M417.3 273.0h0M430.5 261.9h0M427.3 269.6h0M441.1 264.7h0M433.6 271.5h0M423.5 267.3h0M438.5 260.5h0M420.8 276.5h0M428.6 262.1h0M439.3 263.6h0M421.1 270.2h0M442.8 269.2h0M417.0 279.0h0M417.9 272.3h0M438.2 257.6h0M411.4 275.1h0M439.1 269.6h0M421.2 266.0h0M433.8 260.5h0M413.3 277.6h0M419.0 274.1h0M411.9 275.1h0M413.1 271.3h0M440.2 257.1h0M423.6 269.9h0M423.4 271.8h0M431.0 262.6h0M432.2 263.0h0M439.9 262.4h0M411.6 276.7h0M442.1 269.9h0M430.5 275.7h0M418.7 270.8h0M419.4 274.5h0M424.9 268.4h0M433.4 275.5h0M432.1 264.0h0M428.0 269.7h0M432.1 265.3h0M434.8 265.2h0M438.0 257.7h0M436.5 260.1h0M413.6 279.1h0M433.2 266.8h0M412.1 273.6h0M415.4 277.6h0M420.0 276.8h0M421.8 278.5h0M443.1 272.4h0M418.1 269.9h0M416.7 275.0h0M428.3 262.1h0M431.6 260.3h0M412.0 276.1h0M440.8 264.5h0M423.7 270.5h0M429.2 266.6h0M414.5 273.6h0M424.1 274.5h0M428.3 268.3h0M419.3 276.2h0M413.6 273.2h0M413.8 277.6h0M428.3 268.0h0M415.1 270.4h0M415.4 269.9h0M438.7 263.8h0M433.4 264.5h0M433.0 261.5h0M429.0 262.0h0M427.1 269.2h0M427.4 263.1h0M418.2 268.3h0M423.0 277.4h0M430.6 267.8h0M438.6 259.1h0M442.2 266.4h0M424.4 266.4h0M423.0 272.6h0M414.7 277.6h0M438.3 270.2h0M432.5 264.9h0M426.9 273.8h0M424.5 269.4h0M428.5 266.5h0M431.3 270.1h0M424.4 264.3h0M435.0 268.7h0M423.9 265.4h0M442.9 265.9h0M420.7 268.3h0M433.3 270.7h0M430.5 261.9h0M431.3 265.7h0M415.8 274.7h0M429.3 276.4h0M439.8 256.6h0M443.4 270.1h0M426.6 265.0h0M426.3 271.1h0M411.6 279.2h0M436.6 260.8h0M429.7 265.0h0M440.6 264.1h0M434.6 263.9h0M420.0 276.7h0M431.7 264.6h0M424.2 272.1h0M423.4 268.0h0M436.5 262.3h0M434.6 264.1h0M434.4 273.2h0M421.5 271.6h0M435.3 264.1h0M441.6 270.8h0M433.2 266.8h0M435.8 266.1h0M411.6 273.3h0M433.6 269.1h0M436.2 272.4h0M418.9 268.4h0M444.6 264.1h0M422.3 276.2h0M440.8 258.0h0M417.3 273.2h0M427.3 264.4h0M428.1 266.3h0M434.1 261.5h0M440.5 263.3h0M435.5 259.3h0M417.1 273.8h0M439.1 266.1h0M434.5 268.4h0M422.5 266.4h0M426.4 269.6h0M432.9 276.1h0M435.0 270.8h0M427.8 271.8h0M422.7 278.0h0M417.0 272.6h0M413.2 272.2h0M431.5 265.8h0M430.9 265.3h0M416.7 278.1h0M414.2 277.4h0M419.3 267.7h0M418.4 269.9h0M429.0 270.3h0M426.3 277.5h0M436.4 274.7h0M413.8 276.6h0M430.8 275.1h0M438.7 256.5h0M432.0 260.5h0M422.6 274.9h0M440.5 258.2h0M430.3 275.9h0M426.5 276.8h0M414.1 275.8h0M440.3 272.7h0M443.1 270.3h0M427.3 270.0h0M431.4 263.7h0M434.8 262.1h0M421.2 274.8h0M428.8 271.5h0M430.4 265.6h0M431.0 262.9h0M421.4 273.9h0M423.2 275.1h0M419.9 273.3h0M412.9 276.0h0M417.0 269.0h0M437.7 271.9h0M435.1 263.8h0M433.2 263.7h0M432.1 261.7h0M436.8 263.6h0M425.7 269.0h0M430.5 272.1h0M422.2 274.3h0M418.4 274.7h0M444.8 264.5h0M428.5 271.5h0M439.6 267.0h0M412.4 271.8h0M438.1 271.7h0M419.9 274.5h0M416.0 272.8h0M417.8 278.0h0M415.6 274.1h0M416.2 272.8h0M422.6 278.9h0M439.3 272.9h0M421.7 277.8h0M437.1 262.1h0M425.1 269.5h0M434.2 269.1h0M424.3 265.0h0M433.3 274.3h0M436.4 265.2h0M432.7 272.6h0M433.3 269.1h0M427.5 273.8h0M415.3 279.1h0M423.2 275.9h0M435.7 266.7h0M415.5 272.7h0M417.4 269.8h0M416.6 273.7h0M441.8 260.2h0M439.3 271.1h0M423.6 273.5h0M423.0 265.0h0M431.9 267.0h0M428.9 276.4h0M437.4 265.4h0M438.5 258.1h0M412.9 276.3h0M413.3 274.6h0M412.0 272.7h0M442.3 258.8h0M419.4 277.3h0M428.9 265.9h0M421.3 277.5h0M441.7 261.7h0M423.8 267.1h0M417.4 278.9h0M429.7 265.6h0M439.7 270.4h0M416.7 279.0h0M435.0 262.7h0M413.5 275.4h0M425.3 272.1h0M440.9 262.6h0M431.5 263.3h0M415.7 278.7h0M433.7 260.8h0M414.2 276.5h0M444.8 268.7h0M422.9 274.5h0M427.9 277.5h0M418.4 279.0h0M422.3 266.7h0M430.4 275.5h0M431.4 264.2h0M434.5 259.3h0M442.3 267.5h0M413.5 277.9h0M428.4 268.9h0M429.8 268.2h0M418.9 277.7h0M431.1 272.9h0M437.8 259.0h0M418.7 270.5h0M422.7 276.1h0M437.1 272.6h0M413.4 273.7h0M434.9 274.4h0M435.4 273.5h0M440.6 265.6h0M414.1 276.1h0M432.4 266.9h0M441.2 271.1h0M411.5 276.4h0M417.0 276.6h0M416.5 279.6h0M439.9 261.5h0M441.9 268.4h0M423.4 272.2h0M423.9 268.6h0M443.6 268.0h0M437.0 274.5h0M415.3 270.3h0M437.7 271.7h0M436.3 273.0h0M416.0 270.0h0M439.4 264.0h0M429.1 277.8h0M437.3 259.4h0M433.6 275.2h0M415.6 274.7h0M443.9 268.8h0M411.5 276.5h0M437.9 272.6h0M439.9 257.9h0M437.5 263.9h0M439.8 264.1h0M428.6 277.2h0M431.4 265.5h0M420.1 277.0h0M414.9 273.3h0M432.7 262.2h0M432.3 276.4h0M412.7 276.8h0M430.5 276.0h0M440.6 257.9h0M433.3 263.8h0M417.7 276.8h0M428.7 266.0h0M433.3 273.8h0M424.8 268.3h0M435.3 273.4h0M417.2 274.1h0M436.0 260.1h0M433.3 261.9h0M427.6 276.4h0M426.2 274.0h0M417.9 270.2h0M439.1 267.1h0M442.9 268.9h0M427.9 271.6h0M419.0 278.6h0M426.9 270.2h0M436.2 266.4h0M427.4 265.4h0M435.6 267.3h0M443.6 270.6h0M433.5 274.3h0M439.7 256.0h0M418.9 279.2h0M413.9 275.5h0M428.6 271.1h0M439.6 257.0h0M430.2 262.6h0M440.0 266.9h0M434.1 260.4h0M430.2 264.2h0M441.4 257.6h0M421.2 274.8h0M435.6 270.6h0M426.9 265.6h0M425.9 277.8h0M437.8 262.1h0M422.2 275.0h0M420.6 278.6h0M437.9 261.5h0M431.9 272.1h0M435.7 262.9h0M420.1 275.0h0M425.1 272.9h0M422.7 276.6h0M439.7 272.4h0M431.7 272.2h0M434.1 269.8h0M423.5 273.8h0M439.2 261.5h0M419.2 275.7h0M424.1 274.9h0M424.2 264.5h0M427.5 277.6h0M427.0 273.5h0M418.2 274.3h0M416.3 277.5h0M434.5 264.4h0M434.2 268.4h0M427.4 274.3h0M418.7 268.0h0M424.9 272.7h0M425.1 263.9h0M416.0 276.5h0M432.5 261.7h0M430.8 273.5h0M416.2 270.2h0M425.1 278.1h0M434.2 268.3h0M419.0 272.1h0M412.8 278.3h0M416.7 273.0h0M429.4 272.6h0M437.4 271.2h0M434.9 275.8h0M439.1 261.1h0M423.3 272.2h0M425.0 265.9h0M435.0 259.2h0M417.3 274.9h0M419.5 276.4h0M431.8 260.2h0M429.8 273.9h0M416.4 273.1h0M429.3 263.3h0M433.1 273.1h0M439.3 273.9h0M444.4 269.6h0M415.7 273.0h0M417.1 273.4h0M439.3 261.0h0M434.5 269.7h0M417.1 270.1h0M433.5 261.3h0M425.7 268.9h0M443.4 260.3h0M434.5 261.8h0M418.4 275.1h0M439.4 263.1h0M415.6 279.2h0M429.6 275.2h0M434.7 260.8h0M433.6 262.2h0M432.9 262.8h0M437.8 275.0h0M438.4 258.5h0M429.7 276.7h0M416.4 274.9h0M432.3 262.5h0M436.5 274.1h0M414.0 276.1h0M415.5 277.2h0M416.4 274.4h0M440.3 261.9h0M418.4 278.6h0M419.4 272.1h0M422.4 276.3h0M411.8 277.6h0M439.5 260.9h0M412.5 274.3h0M431.7 276.6h0M434.6 260.4h0M426.0 273.7h0M426.0 264.9h0M444.4 260.2h0M422.2 274.0h0M433.3 275.9h0M432.3 261.7h0M425.6 268.3h0M422.6 273.6h0M417.5 270.2h0M411.9 279.5h0M439.5 272.6h0M422.4 274.9h0M425.2 271.1h0M421.7 268.1h0M424.9 264.2h0M423.0 273.0h0M415.6 277.5h0M421.0 269.4h0M431.8 272.6h0M427.7 267.9h0M427.6 263.6h0M432.5 275.4h0M423.7 265.1h0M443.8 269.0h0M422.3 276.4h0M439.8 258.8h0M413.3 279.1h0M417.1 274.4h0M436.2 271.4h0M426.1 265.2h0M429.6 272.7h0M426.3 275.6h0M426.7 277.9h0M431.1 273.9h0M420.0 278.5h0M421.8 274.7h0M441.7 267.7h0M415.5 274.8h0M438.8 257.7h0M414.2 277.7h0M428.3 273.8h0M434.2 262.2h0M426.9 277.5h0M445.2 267.3h0M430.0 274.3h0M433.6 264.8h0M413.2 277.1h0M440.1 258.1h0M428.5 263.7h0M419.3 278.7h0M441.6 266.5h0M435.2 274.4h0M430.5 265.5h0M423.6 269.4h0M424.2 269.2h0M435.1 273.5h0M425.4 278.5h0M419.9 277.9h0M425.0 273.1h0M414.1 274.4h0M433.1 272.0h0M436.9 269.3h0M443.3 261.6h0M431.8 275.8h0M428.6 269.9h0M425.3 269.1h0M418.8 274.7h0M440.5 261.3h0M427.7 265.1h0M444.2 270.7h0M434.0 266.0h0M441.4 271.8h0M428.8 263.7h0M437.5 273.6h0M416.2 272.4h0M434.8 260.8h0M435.5 266.2h0M440.1 267.3h0M423.6 273.5h0M436.5 258.0h0M421.8 278.6h0M429.2 267.6h0M423.8 268.3h0M428.6 268.1h0M434.6 259.8h0M420.2 275.0h0M438.9 268.5h0M444.2 268.3h0M427.9 274.0h0M426.7 264.3h0M423.3 274.6h0M433.5 273.0h0M439.8 261.0h0M414.0 275.7h0M428.0 264.6h0M426.3 266.0h0M438.6 264.7h0M443.4 266.4h0M432.0 261.6h0M424.4 264.9h0M423.8 274.8h0M435.1 271.2h0M432.6 262.6h0M418.6 270.2h0M422.0 271.8h0M418.9 277.3h0M431.7 264.8h0M420.0 275.2h0M423.7 266.2h0M420.7 273.3h0M428.9 267.8h0M432.7 269.6h0M434.3 268.8h0M422.2 277.0h0M423.4 265.5h0M434.5 272.3h0M423.9 274.1h0M435.2 272.6h0M416.4 271.8h0M419.6 271.8h0M432.7 259.5h0M421.6 269.3h0M427.9 271.0h0M421.4 272.6h0M432.8 275.3h0M440.4 272.0h0M416.6 276.5h0M426.3 276.6h0M429.7 277.4h0M443.2 263.8h0M426.3 275.7h0M437.1 260.9h0M427.2 275.4h0M419.2 273.1h0M422.9 274.0h0M425.0 268.6h0M423.1 276.1h0M420.2 271.5h0M423.9 270.0h0M430.4 270.6h0M414.6 275.2h0M435.1 276.2h0M425.2 268.2h0M418.2 277.5h0M427.6 269.0h0M428.6 276.8h0M444.4 260.2h0M418.1 275.3h0M434.0 264.7h0M412.4 271.7h0M415.7 269.3h0M413.7 276.8h0M436.7 258.0h0M414.0 273.1h0M411.4 274.7h0M444.5 265.2h0M428.9 266.5h0M425.0 278.2h0M434.5 269.6h0M431.3 261.4h0M442.0 257.1h0M421.1 273.5h0M417.6 271.7h0M426.3 263.4h0M421.3 269.2h0M414.3 274.0h0M436.8 264.6h0M424.6 268.0h0M424.2 266.3h0M433.9 276.6h0M437.9 262.2h0M438.2 262.2h0M421.2 270.2h0M412.3 279.0h0M421.2 273.6h0M417.2 268.5h0M451.5 258.5h0M443.1 261.6h0M456.5 263.2h0M441.2 256.8h0M444.4 265.8h0M448.2 256.5h0M447.9 264.1h0M441.5 260.6h0M442.5 261.1h0M450.9 257.3h0M438.1 263.2h0M449.3 260.9h0M453.6 266.8h0M444.3 257.7h0M445.8 262.8h0M452.0 256.6h0M454.9 259.2h0M450.0 263.2h0M454.0 261.4h0M437.3 264.4h0M452.0 259.1h0M454.1 258.0h0M443.4 255.6h0M447.1 261.7h0M449.5 268.8h0M447.3 258.3h0M454.8 254.8h0M450.3 257.9h0M446.1 254.6h0M452.9 254.7h0M439.9 262.1h0M445.3 263.1h0M451.8 265.4h0M445.2 259.3h0M442.8 262.7h0M445.5 261.4h0M454.0 256.7h0M456.4 258.3h0M443.3 267.4h0M446.5 259.5h0M445.7 261.5h0M457.7 253.8h0M457.6 257.5h0M451.9 252.6h0M454.7 261.0h0M441.7 263.9h0M447.0 255.3h0M444.7 254.1h0M450.9 255.8h0M454.6 257.1h0M442.5 253.4h0M446.6 251.3h0M449.6 258.9h0M451.4 259.4h0M449.8 256.5h0M451.4 257.3h0M439.0 263.5h0M451.5 255.6h0M456.8 256.7h0M448.9 261.3h0M447.8 260.0h0M454.4 251.8h0M441.6 266.8h0M443.3 257.7h0M437.3 254.0h0M441.9 263.4h0M443.2 264.9h0M450.7 254.3h0M438.6 265.9h0M452.0 261.1h0M442.2 261.7h0M440.4 256.8h0M451.2 262.8h0M458.4 255.9h0M443.0 260.0h0M447.3 258.9h0M454.8 261.2h0M443.6 267.6h0M447.5 263.3h0M450.4 252.4h0M448.7 259.7h0M442.4 258.7h0M454.3 252.3h0M445.6 257.8h0M458.0 255.9h0M458.4 258.9h0M437.5 258.4h0M441.3 264.5h0M447.4 257.4h0M438.6 257.0h0" stroke="#2c48a4" stroke-width="1.10" stroke-linecap="round" stroke-opacity="0.90" fill="none"/>
<path d="M423.8 359.5h0M443.6 335.3h0M439.5 353.8h0M443.5 381.2h0M420.8 370.2h0M418.7 357.4h0M487.4 372.6h0M423.6 363.4h0M425.8 313.6h0M428.6 355.9h0M428.5 353.7h0M410.8 360.5h0M422.1 361.6h0M395.3 359.4h0M458.8 377.0h0M425.8 362.9h0M478.8 351.6h0M433.6 360.4h0M437.7 363.0h0M427.8 361.4h0M424.6 359.2h0M436.5 351.9h0M425.0 365.4h0M432.4 366.2h0M421.8 367.7h0M415.3 368.5h0M413.8 369.0h0M425.1 360.5h0M429.3 365.3h0M423.3 356.8h0M424.2 362.2h0M427.5 350.5h0M487.7 334.6h0M416.0 356.5h0M423.5 351.0h0M425.1 366.3h0M440.8 356.1h0M417.5 382.3h0M453.9 370.6h0M442.0 355.3h0M449.6 366.5h0M397.1 356.0h0M397.9 348.3h0M415.5 321.9h0M405.8 347.4h0M434.4 345.5h0M423.9 370.9h0M503.8 379.2h0M396.1 339.5h0M430.2 353.7h0M446.0 328.9h0M417.7 333.2h0M408.0 357.3h0M429.8 355.7h0M437.8 364.8h0M406.6 345.3h0M425.3 352.1h0M422.2 379.2h0M433.6 376.1h0M437.3 367.5h0M456.9 336.0h0M403.1 369.8h0M478.2 363.3h0M446.1 351.8h0M464.4 347.1h0M444.1 356.7h0M410.2 370.2h0M423.4 376.2h0M439.3 369.2h0M441.4 337.2h0M409.3 366.0h0M404.8 350.7h0M431.6 359.9h0M459.7 351.5h0M437.4 357.4h0M414.8 353.3h0M432.4 366.4h0M411.1 349.0h0M427.4 371.1h0M418.7 369.4h0M446.5 365.4h0M419.9 351.5h0M398.9 357.6h0M400.2 361.0h0M428.2 346.5h0M434.4 348.7h0M428.2 364.3h0M418.4 368.0h0M408.3 342.2h0M433.1 351.9h0M402.3 367.6h0M443.5 374.2h0M452.1 369.5h0M411.5 357.0h0M417.5 362.1h0M414.1 363.7h0M419.5 369.3h0M426.4 345.2h0M417.2 371.4h0M406.2 352.2h0M438.0 345.9h0M436.4 345.9h0M485.9 316.3h0M435.9 375.0h0M412.2 358.7h0M411.1 339.5h0M425.3 374.9h0M468.4 357.7h0M454.3 338.4h0M422.3 360.5h0M434.5 344.6h0M402.1 357.7h0M468.0 371.2h0M435.7 373.1h0M432.7 366.7h0M459.1 377.2h0M467.9 366.2h0M421.6 367.1h0M401.2 356.9h0M477.6 343.0h0M416.8 359.5h0M418.8 356.9h0M433.9 361.6h0M431.0 352.1h0M420.8 368.6h0M407.5 362.7h0M442.5 357.6h0M425.0 362.1h0M435.4 361.5h0M435.0 362.7h0M402.6 356.4h0M413.3 371.8h0M500.5 380.6h0M465.3 367.8h0M420.5 378.3h0M493.6 315.9h0M442.6 365.1h0M484.3 372.0h0M433.3 358.9h0M412.1 367.6h0M433.6 369.6h0M416.4 375.5h0M418.9 359.1h0M410.3 377.8h0M497.3 346.5h0M394.9 365.1h0M454.4 373.9h0M438.9 356.3h0M406.0 362.5h0M419.3 350.4h0M424.5 369.3h0M411.0 343.5h0M419.4 372.3h0M477.3 366.0h0M420.0 376.7h0M431.6 348.7h0M429.0 366.2h0M425.1 354.1h0M405.2 358.6h0M412.0 363.2h0M425.2 356.8h0M424.6 364.3h0M436.6 361.9h0M442.3 358.1h0M427.2 359.3h0M445.2 371.9h0M435.3 354.7h0M445.6 366.3h0M419.9 365.3h0M427.8 361.6h0M438.9 366.2h0M425.4 366.9h0M441.1 361.9h0M441.2 360.0h0M396.2 376.1h0M444.3 351.2h0M415.4 362.8h0M430.2 360.8h0M442.9 363.5h0M427.8 367.4h0M492.1 350.8h0M446.3 353.4h0M417.4 363.6h0M421.9 342.1h0M408.3 362.4h0M455.4 356.2h0M442.9 364.8h0M430.4 367.3h0M414.3 376.3h0M437.8 370.6h0M439.4 357.3h0M492.0 345.7h0M431.0 356.9h0M435.9 360.5h0M400.5 368.2h0M425.6 365.8h0M431.0 358.2h0M438.4 342.7h0M434.9 362.8h0M426.6 371.9h0M446.8 333.6h0M461.5 365.9h0M421.7 370.6h0M427.5 364.5h0M410.4 351.7h0M423.2 366.5h0M446.0 372.2h0M419.8 355.6h0M437.7 371.8h0M411.9 373.8h0M441.0 361.8h0M424.4 363.4h0M450.6 354.4h0M445.0 364.8h0M441.8 355.8h0M443.3 361.4h0M420.8 344.4h0M437.7 358.0h0M461.2 357.4h0M402.8 355.2h0M425.5 372.2h0M416.9 374.7h0M427.8 373.2h0M439.2 351.9h0M423.2 360.2h0M444.3 355.4h0M424.9 362.4h0M401.5 341.8h0M451.8 374.8h0M443.9 358.1h0M442.7 363.1h0M414.7 337.2h0M437.4 362.8h0M436.6 350.5h0M421.2 352.4h0M486.6 356.7h0M438.1 346.4h0M412.4 367.8h0M420.7 360.0h0M439.0 356.9h0M418.9 368.5h0M461.0 361.7h0M452.1 360.9h0M421.0 362.2h0M421.8 325.2h0M460.3 375.2h0M423.2 356.1h0M403.4 347.4h0M438.7 363.2h0M429.1 359.7h0M409.8 362.0h0M473.3 372.0h0M426.2 355.2h0M440.9 335.4h0M415.0 357.5h0M421.8 363.2h0M411.7 370.9h0M462.1 361.9h0M469.0 364.5h0M486.2 342.8h0M435.1 367.1h0M404.0 357.5h0M428.9 369.1h0M433.3 345.4h0M425.9 361.3h0M434.9 369.2h0M438.5 346.4h0M411.6 352.4h0M441.6 351.6h0M501.4 325.3h0M436.1 364.7h0M447.1 361.8h0M453.4 369.5h0M404.8 372.5h0M449.8 372.0h0M423.6 360.0h0M440.3 351.1h0M410.3 367.6h0M433.9 361.8h0M423.9 348.4h0M413.3 357.4h0M429.0 367.9h0M400.5 355.9h0M425.6 352.5h0M439.1 345.7h0M424.4 355.9h0M398.3 357.9h0M435.7 350.6h0M458.5 374.6h0M435.0 362.2h0M414.0 353.3h0M410.6 366.6h0M436.9 363.9h0M422.6 357.1h0M421.3 341.4h0M416.3 361.7h0M425.6 358.1h0M440.5 356.2h0M419.3 373.6h0M430.5 358.8h0M463.7 342.4h0M446.1 368.0h0M451.1 375.0h0M424.5 349.7h0M404.9 369.0h0M415.5 338.6h0M440.6 358.6h0M417.0 356.7h0M439.2 352.1h0M452.2 351.8h0M423.1 365.4h0M448.4 362.5h0M446.7 365.8h0M410.7 368.6h0M427.3 370.0h0M493.5 357.2h0M469.7 365.2h0M421.4 373.2h0M432.4 363.5h0M502.9 369.4h0M420.6 368.7h0M442.8 367.0h0M418.2 364.9h0M432.3 359.5h0M431.3 359.9h0M433.3 358.8h0M440.4 371.8h0M441.1 366.2h0M432.3 319.4h0M413.7 351.2h0M437.2 369.4h0M420.9 340.9h0M457.5 366.6h0M462.7 349.8h0M441.1 379.4h0M423.3 379.1h0M455.9 345.9h0M408.0 360.8h0M473.5 362.7h0M470.6 345.6h0M424.3 351.8h0M399.7 314.0h0M423.7 359.4h0M444.5 364.3h0M412.7 363.0h0M441.2 361.5h0M433.2 343.4h0M422.1 373.7h0M445.2 331.6h0M430.0 362.1h0M404.3 355.3h0M463.4 358.5h0M419.3 371.9h0M425.1 345.5h0M416.9 361.7h0M436.4 359.6h0M419.8 368.8h0M479.0 373.5h0M505.2 321.3h0M416.7 363.8h0M430.7 362.3h0M461.5 376.4h0M415.0 361.4h0M437.5 375.3h0M483.6 369.2h0M436.8 347.2h0M448.2 322.4h0M454.3 364.7h0M462.3 359.1h0M468.6 368.1h0M421.0 359.8h0M417.4 362.6h0M443.4 324.9h0M416.7 358.0h0M448.1 361.0h0M397.9 364.7h0M438.6 357.0h0M445.6 372.1h0M444.0 370.2h0M449.9 365.7h0M442.3 355.7h0M464.7 352.6h0M418.7 370.5h0M451.8 364.1h0M438.7 372.2h0M454.6 358.8h0M414.6 322.6h0M409.0 356.7h0M409.4 365.3h0M459.8 355.4h0M400.0 334.5h0M396.8 368.2h0M419.3 377.0h0M413.3 376.1h0M411.8 357.6h0M426.2 374.8h0M425.2 360.0h0M416.1 372.1h0M463.8 345.4h0M471.8 366.6h0M419.6 364.3h0M444.3 373.9h0M418.7 355.4h0M411.9 341.0h0M455.6 348.7h0M429.1 364.8h0M436.8 358.9h0M451.1 379.0h0M416.4 371.8h0M423.0 365.6h0M440.4 365.7h0M498.6 378.0h0M416.7 363.6h0M427.7 359.3h0M442.3 369.2h0M475.3 359.9h0M436.8 368.8h0M478.7 368.4h0M443.4 349.4h0M436.3 356.5h0M408.1 357.0h0M407.9 374.6h0M456.3 364.1h0M442.0 367.4h0M414.2 361.8h0M419.6 370.4h0M420.0 380.3h0M403.4 346.7h0M430.1 357.0h0M429.7 364.5h0M423.3 351.2h0M470.5 373.2h0M420.0 341.1h0M438.8 369.1h0M417.2 363.2h0M428.4 329.5h0M416.6 373.6h0M406.4 350.2h0M444.8 356.9h0M425.6 365.6h0M433.9 369.0h0M421.9 372.6h0M473.0 331.1h0M448.0 362.8h0M443.1 380.9h0M431.0 351.9h0M399.0 364.5h0M423.1 357.7h0M450.3 350.7h0M437.9 357.6h0M415.2 367.9h0M409.3 358.1h0M444.0 359.0h0M440.7 365.3h0M423.7 354.9h0M418.8 377.4h0M469.0 353.7h0M435.2 324.5h0M461.4 367.0h0M439.0 365.9h0M455.1 362.3h0M429.2 375.4h0M433.7 360.3h0M420.8 358.6h0M401.6 362.8h0M405.7 363.3h0M407.7 354.4h0M454.4 357.8h0M403.3 372.6h0M419.4 356.6h0M472.6 352.9h0M430.7 364.1h0M441.3 347.3h0M412.4 357.6h0M410.7 373.3h0M452.1 343.4h0M401.7 365.3h0M452.2 362.6h0M487.0 370.3h0M426.0 367.5h0M406.6 342.6h0M468.1 355.9h0M395.1 379.8h0M403.1 366.8h0M413.7 363.0h0M450.7 364.0h0M423.0 370.6h0M442.9 352.3h0M428.9 356.2h0M420.3 350.9h0M398.6 361.1h0M406.6 364.0h0M427.0 365.0h0M419.5 369.1h0M422.3 359.6h0M423.4 369.7h0M404.6 360.4h0M437.6 366.9h0M423.5 354.6h0M438.2 345.9h0M420.7 377.7h0M451.5 364.6h0M426.0 357.2h0M435.4 324.9h0M427.5 362.4h0M440.4 357.7h0M442.3 355.9h0M498.0 372.5h0M398.2 329.1h0M468.2 361.8h0M432.4 370.5h0M435.9 353.5h0M421.0 376.3h0M457.8 372.7h0M459.1 362.8h0M413.6 371.6h0M460.0 350.1h0M409.2 339.5h0M465.4 381.4h0M425.4 355.0h0M434.9 361.8h0M404.2 356.6h0M403.0 376.4h0M421.2 363.6h0M467.9 367.8h0M419.8 353.5h0M409.4 370.8h0M438.1 351.5h0M441.3 375.1h0M428.8 350.9h0M427.3 361.7h0M401.8 340.3h0M438.1 369.3h0M434.6 351.1h0M437.6 348.2h0M500.6 364.8h0M467.2 366.6h0M429.3 371.1h0M445.8 376.7h0M444.9 368.3h0M404.3 380.5h0M406.3 369.7h0M405.5 357.9h0M415.9 365.8h0M405.2 362.3h0M428.8 355.9h0M434.2 361.2h0M418.3 352.7h0M422.9 351.7h0M443.7 369.6h0M427.5 360.8h0M408.0 373.8h0M418.7 375.0h0M422.8 344.0h0M441.1 365.8h0M403.6 361.5h0M426.1 331.2h0M429.6 362.4h0M420.1 338.3h0M447.6 364.8h0M416.1 351.6h0M444.8 368.9h0M448.0 376.3h0M463.1 364.5h0M425.3 355.4h0M421.3 358.8h0M471.8 365.4h0M433.7 359.2h0M421.3 363.8h0M482.0 351.1h0M456.7 357.0h0M438.3 360.8h0M412.2 341.3h0M431.6 340.1h0M438.3 342.1h0M424.5 346.4h0M428.6 361.1h0M442.9 359.8h0M406.3 372.0h0M416.3 368.1h0M420.9 363.7h0M444.7 361.8h0M406.4 361.2h0M444.4 380.8h0M449.5 369.8h0M434.5 354.6h0M437.1 368.2h0M422.3 362.8h0M447.8 316.5h0M415.2 369.2h0M434.9 368.7h0M424.8 372.5h0M435.3 375.8h0M452.2 319.5h0M395.0 368.3h0M465.2 361.1h0M437.3 375.4h0M424.5 363.2h0M427.1 364.4h0M431.9 366.7h0M414.5 342.3h0M456.3 373.2h0M441.4 363.5h0M420.7 361.1h0M432.4 360.3h0M469.9 357.0h0M433.4 352.8h0M428.4 368.3h0M415.6 354.9h0M411.8 361.9h0M436.6 358.7h0M418.1 368.8h0M461.3 369.0h0M456.2 373.5h0M464.7 369.4h0M420.5 349.5h0M419.9 365.3h0M423.3 357.1h0M408.4 364.9h0M419.1 366.2h0M462.4 352.7h0M418.7 357.4h0M445.9 330.3h0M421.1 370.1h0M436.0 359.5h0M427.0 357.0h0M463.4 375.9h0M416.9 333.8h0M433.6 376.7h0M435.0 362.8h0M428.3 359.8h0M437.5 357.9h0M441.1 360.5h0M434.9 353.5h0M420.7 348.2h0M425.8 379.3h0M399.2 361.6h0M424.4 348.8h0M465.7 353.1h0M428.6 368.2h0M425.2 340.0h0M438.3 372.1h0M412.9 358.9h0M416.8 354.0h0M420.1 364.3h0M432.3 373.8h0M443.4 371.5h0M419.8 350.0h0M424.7 326.0h0M422.8 349.3h0M433.8 357.0h0M466.6 339.7h0M425.9 333.5h0M422.8 359.5h0M433.7 333.0h0M428.7 361.0h0M424.5 350.9h0M422.3 365.2h0M444.0 368.1h0M462.8 358.2h0M410.4 364.3h0M443.5 360.4h0M499.4 350.9h0M414.7 366.5h0M430.4 360.6h0M500.8 365.7h0M437.2 365.9h0M427.7 371.4h0M432.3 368.0h0M448.9 366.7h0M421.7 341.6h0M406.0 343.8h0M468.4 329.7h0M456.1 363.3h0M417.9 351.3h0M444.6 362.8h0M450.9 351.1h0M447.2 365.9h0M445.3 355.4h0M432.6 316.3h0M404.0 329.6h0M422.2 353.7h0M434.3 372.5h0M429.6 367.4h0M408.9 372.2h0M406.9 367.2h0M453.1 347.4h0M417.8 377.1h0M439.9 350.9h0M428.8 366.9h0M422.1 329.8h0M454.9 368.3h0M456.4 346.4h0M455.6 359.7h0M448.0 357.1h0M432.1 363.6h0M437.4 366.6h0M424.1 320.5h0M434.0 367.2h0M419.2 361.0h0M444.1 349.2h0M433.7 357.1h0M423.7 363.9h0M476.7 369.3h0M445.4 325.5h0M406.5 370.4h0M423.6 354.2h0M421.2 369.6h0M448.0 365.6h0M405.4 347.2h0M424.6 360.1h0M430.9 362.9h0M435.7 351.4h0M455.7 355.3h0M427.8 358.3h0M427.9 350.1h0M432.9 373.1h0M430.9 362.1h0M436.0 378.1h0M417.6 332.8h0M454.7 348.0h0M445.7 363.5h0M423.2 365.0h0M481.4 359.6h0M410.8 365.3h0M406.1 372.5h0M407.7 361.0h0M434.4 358.8h0M453.9 381.2h0M433.8 363.1h0M479.2 341.9h0M410.9 361.9h0M436.2 360.9h0M493.5 364.5h0M426.8 352.6h0M415.9 372.3h0M448.9 365.5h0M410.2 362.0h0M437.9 364.9h0M409.7 363.6h0M429.9 376.3h0M446.0 349.8h0M425.7 357.4h0M404.2 367.9h0M432.6 353.1h0M439.5 363.4h0M437.4 365.7h0M404.4 362.3h0M429.2 369.1h0M466.2 353.7h0M426.9 369.3h0M476.0 356.4h0M435.1 380.5h0M443.5 362.7h0M430.0 377.4h0M445.6 372.8h0M424.6 330.3h0M434.9 371.1h0M445.9 360.5h0M488.3 343.8h0M400.6 336.7h0M426.4 343.7h0M411.8 363.7h0M405.8 372.5h0M445.0 367.9h0M425.0 351.8h0M421.3 373.1h0M407.1 361.8h0M426.2 364.5h0M510.4 378.9h0M422.0 376.0h0M441.7 359.4h0M433.9 380.3h0M434.9 315.5h0M415.2 326.4h0M445.0 349.4h0M449.9 365.9h0M427.7 347.0h0M446.0 374.3h0M401.6 353.6h0M431.0 371.1h0M430.5 371.3h0M431.4 372.4h0M441.2 376.4h0M437.4 376.0h0M415.8 372.4h0M478.0 374.9h0M447.5 349.9h0M422.3 349.4h0M452.7 343.7h0M412.2 356.6h0M419.8 337.3h0M458.2 367.7h0M436.5 365.8h0M435.8 341.8h0M427.9 353.9h0M496.9 336.7h0M418.0 364.4h0M411.6 370.6h0M420.0 343.5h0M463.3 343.7h0M457.0 356.0h0M437.5 335.9h0M438.4 377.9h0M422.2 367.4h0M447.6 366.8h0M435.5 360.5h0M426.3 355.3h0M435.2 362.9h0M439.8 368.8h0M417.4 362.0h0M464.4 368.5h0M407.1 346.3h0M432.1 331.6h0M433.5 378.3h0M435.9 369.7h0M419.9 360.4h0M440.4 363.8h0M457.1 374.5h0M408.0 349.4h0M449.4 370.5h0M408.8 339.6h0M475.1 356.2h0M439.8 366.6h0M426.2 368.9h0M417.5 362.1h0M424.3 354.5h0M408.4 367.3h0M407.0 356.5h0M451.3 346.7h0M432.0 380.0h0M451.3 355.0h0M435.2 359.3h0M440.9 365.7h0M457.5 362.1h0M411.0 359.4h0M425.7 360.3h0M472.4 359.7h0M411.3 368.1h0M417.6 377.8h0M431.1 367.7h0M411.1 361.5h0M448.5 359.5h0M410.2 376.0h0M469.0 376.6h0M449.6 366.6h0M444.6 371.8h0M425.7 358.5h0M399.8 327.7h0M402.4 324.0h0M438.4 373.8h0M424.1 364.7h0M462.8 355.9h0M467.6 344.9h0M427.1 318.5h0M422.5 338.6h0M419.1 363.3h0M448.3 368.2h0M438.2 355.3h0M431.5 374.5h0M439.8 369.0h0M454.1 340.8h0M442.5 358.1h0M416.2 366.2h0M420.4 355.8h0M432.0 343.8h0M423.4 362.7h0M413.4 340.8h0M419.7 368.6h0M452.1 370.0h0M414.8 359.2h0M487.6 375.3h0M412.5 377.7h0M431.3 359.6h0M441.2 357.2h0M421.6 315.9h0M476.8 361.6h0M401.1 374.3h0M398.4 375.0h0M436.4 363.8h0M422.8 363.9h0M444.4 362.5h0M458.5 358.2h0M428.6 349.5h0M445.2 364.7h0M415.5 367.7h0M403.3 367.9h0M424.5 362.6h0M421.7 369.2h0M443.0 365.9h0M472.7 376.4h0M423.0 325.3h0M410.5 351.3h0M442.1 375.5h0M447.8 359.4h0M451.4 319.0h0M406.4 369.6h0M412.6 356.9h0M404.0 362.4h0M428.5 359.8h0M445.1 360.5h0M428.4 335.3h0M424.5 361.0h0M452.9 361.6h0M454.6 366.2h0M429.4 356.1h0M429.8 364.9h0M434.5 368.3h0M421.1 367.7h0M433.6 354.6h0M433.3 371.3h0M423.9 372.5h0M461.3 341.3h0M419.4 322.5h0M436.4 338.4h0M433.2 326.4h0M410.9 374.2h0M444.0 355.4h0M436.7 367.3h0M474.9 367.0h0M419.6 360.9h0M440.3 373.5h0M441.1 344.0h0M422.9 363.1h0M427.4 363.9h0M436.9 370.1h0M448.6 363.9h0M421.6 351.0h0M409.3 371.4h0M433.2 350.3h0M408.3 356.6h0M445.9 362.9h0M439.9 357.1h0M428.2 355.3h0M429.2 360.4h0M444.3 334.4h0M403.0 360.8h0M434.0 362.3h0M442.4 352.1h0M433.3 361.2h0M417.7 365.1h0M420.1 366.4h0M399.8 367.2h0M441.7 353.5h0M444.7 360.8h0M437.5 362.9h0M412.4 374.5h0M404.7 341.6h0M443.4 369.2h0M447.7 347.4h0M441.5 367.0h0M415.5 356.7h0M441.9 371.9h0M409.7 368.0h0M413.3 353.8h0M432.8 363.0h0M444.3 360.6h0M468.9 370.3h0M450.1 358.2h0M428.4 361.4h0M437.7 352.1h0M439.2 372.2h0M454.1 359.2h0M405.7 360.2h0M418.2 376.2h0M429.8 364.7h0M474.5 333.3h0M446.7 352.3h0M401.5 362.9h0M418.3 360.1h0M424.4 374.8h0M463.2 345.9h0M442.7 368.7h0M417.9 361.0h0M445.6 360.6h0M445.6 362.3h0M428.5 365.8h0M455.8 377.3h0M478.6 377.1h0M480.2 351.7h0M431.8 360.4h0M422.9 365.5h0M493.4 336.4h0M454.7 346.0h0M444.3 356.2h0M417.1 354.1h0M446.7 348.6h0M437.3 335.2h0M403.4 368.1h0M404.7 364.5h0M450.9 361.1h0M408.0 365.2h0M437.5 354.0h0M403.5 364.7h0M437.2 357.2h0M421.0 364.3h0M426.1 365.0h0M494.9 358.5h0M451.4 367.1h0M456.4 380.1h0M417.8 352.0h0M459.9 349.0h0M417.8 363.4h0M408.3 368.8h0M465.1 355.2h0M439.0 374.3h0M439.8 369.4h0M397.9 377.0h0M447.3 346.6h0M447.4 357.4h0M403.0 336.1h0M475.8 347.4h0M438.3 366.1h0M437.8 356.5h0M422.0 365.3h0M438.5 362.0h0M440.0 362.1h0M422.2 356.8h0M427.3 366.9h0M426.7 354.2h0M400.5 366.3h0M418.9 354.8h0M465.5 362.4h0M435.5 359.0h0M445.2 343.7h0M451.2 344.9h0M428.4 362.4h0M424.1 346.2h0M433.4 364.8h0M435.9 344.5h0M421.0 372.5h0M410.2 359.9h0M423.7 363.7h0M423.7 358.0h0M448.9 382.9h0M447.8 340.4h0M406.2 356.1h0M418.1 362.0h0M421.2 366.7h0M436.6 351.4h0M450.9 334.7h0M399.0 376.3h0M421.7 354.2h0M450.3 345.6h0M415.0 314.7h0M411.6 347.0h0M438.1 336.3h0M467.4 341.4h0M416.4 356.6h0M435.2 356.3h0M406.4 329.7h0M475.7 354.5h0M408.0 374.3h0M436.2 361.8h0M436.4 343.9h0M504.2 364.5h0M463.1 341.8h0M429.0 373.8h0M438.8 368.1h0M437.3 363.6h0M419.0 362.5h0M429.9 382.7h0M418.8 351.5h0M439.3 372.7h0M428.2 361.5h0M435.2 372.4h0M425.8 373.7h0M414.8 372.7h0M417.7 365.8h0M421.5 367.9h0M441.1 367.2h0M421.5 364.8h0M424.8 369.2h0M442.8 352.3h0M415.8 358.4h0M415.0 359.6h0M426.2 360.6h0M436.4 366.2h0M434.3 353.6h0M410.9 350.3h0M437.1 362.3h0M409.2 356.9h0M450.9 362.5h0M439.8 327.3h0M414.9 349.5h0M427.4 367.4h0M433.0 376.5h0M468.9 365.9h0M410.8 359.5h0M435.8 370.2h0M417.4 374.7h0M464.6 346.2h0M454.5 355.5h0M413.4 355.9h0M459.2 357.0h0M426.9 364.9h0M408.2 367.8h0M428.5 364.1h0M416.4 328.9h0M417.6 370.0h0M407.7 338.6h0M466.1 336.3h0M395.8 355.2h0M433.1 368.2h0M420.0 347.4h0M419.8 367.5h0M414.1 379.0h0M466.4 364.6h0M463.2 352.5h0M416.6 358.3h0M413.4 369.0h0M445.8 352.2h0M413.4 335.6h0M428.7 354.8h0M452.0 356.2h0M445.1 358.9h0M432.1 359.4h0M399.6 376.3h0M426.3 368.3h0M430.6 358.5h0M484.9 369.1h0M425.0 359.5h0M416.2 370.6h0M424.3 369.7h0M440.8 363.5h0M427.6 353.7h0M456.6 346.6h0M455.1 354.7h0M446.6 373.8h0M451.0 368.5h0M443.9 376.6h0M399.7 361.6h0M425.7 356.7h0M440.2 369.6h0M441.3 359.9h0M417.4 364.1h0M461.6 359.1h0M418.3 361.1h0M427.7 372.8h0M444.8 370.5h0M412.6 373.4h0M470.6 334.6h0M433.7 344.2h0M420.0 334.1h0M410.9 373.4h0M435.8 365.0h0M423.5 371.6h0M447.0 334.8h0M460.7 364.9h0M457.2 363.6h0M415.7 359.2h0M418.1 364.2h0M427.2 340.2h0M423.2 369.3h0M441.9 357.2h0M500.4 368.0h0M436.0 364.5h0M444.7 364.9h0M438.2 359.5h0M421.3 370.2h0M414.4 360.0h0M429.9 363.7h0M442.9 362.8h0M402.1 368.1h0M418.3 362.5h0M435.4 353.3h0M440.6 361.1h0M446.5 366.9h0M488.7 325.3h0M428.1 364.6h0M461.2 346.9h0M420.1 377.4h0M420.4 364.1h0M406.4 325.2h0M441.8 359.5h0M436.9 358.4h0M438.5 359.2h0M423.6 373.6h0M424.5 354.7h0M404.5 345.6h0M480.9 326.6h0M434.4 360.9h0M415.0 360.8h0M451.0 356.3h0M442.9 356.6h0M405.6 366.7h0M448.6 378.4h0M438.6 367.8h0M433.2 352.3h0M425.1 369.6h0M406.7 373.3h0M409.6 367.4h0M443.2 351.3h0M445.2 369.9h0M419.2 366.8h0M433.2 360.3h0M452.6 367.6h0M432.1 369.2h0M470.3 374.9h0M426.2 339.2h0M411.1 360.6h0M438.6 363.9h0M401.9 372.6h0M395.2 361.2h0M433.3 353.6h0M404.1 377.7h0M416.0 354.4h0M424.1 364.1h0M427.6 364.2h0M400.6 350.1h0M419.5 359.9h0M424.0 365.1h0M441.8 364.4h0M407.3 339.1h0M410.4 376.7h0M444.5 365.8h0M400.0 342.7h0M443.8 336.8h0M414.7 367.6h0M420.2 357.0h0M408.9 352.3h0M420.4 361.0h0M441.9 374.0h0M446.0 351.8h0M413.8 358.0h0M429.4 338.6h0M414.8 358.6h0M450.0 361.5h0M432.6 367.2h0M447.0 366.8h0M422.3 347.0h0M414.3 360.2h0M423.5 364.4h0M468.4 329.4h0M436.8 371.9h0M456.8 353.9h0M494.8 382.9h0M469.2 354.2h0M414.3 369.2h0M410.0 348.8h0M421.6 368.6h0M446.4 347.4h0M421.2 369.0h0M433.2 374.0h0M437.4 345.6h0M408.0 366.9h0M446.9 357.0h0M480.9 336.6h0M432.4 371.9h0M427.7 374.8h0M416.0 351.8h0M427.3 361.6h0M419.5 362.6h0M433.7 359.1h0M411.5 359.5h0M452.4 359.2h0M398.8 341.5h0M430.0 365.4h0M424.5 348.9h0M458.0 369.9h0M442.7 352.6h0M416.7 362.2h0M416.3 345.2h0M451.7 371.9h0M417.3 369.2h0M505.7 367.9h0M429.8 369.1h0M484.9 378.3h0M433.5 353.7h0M407.8 339.3h0M415.8 361.7h0M426.4 363.2h0M441.4 362.8h0M429.8 359.9h0M417.0 357.0h0M413.0 350.6h0M411.5 367.7h0M407.5 359.4h0M459.9 372.6h0M452.6 361.6h0M439.6 362.5h0M452.6 369.6h0M426.8 373.5h0M406.0 363.9h0M427.0 357.8h0M423.9 373.0h0M412.4 361.8h0M407.2 327.5h0M425.1 378.9h0M427.3 367.1h0M439.4 355.6h0M439.4 371.6h0M402.2 336.4h0M417.3 326.2h0M452.5 331.7h0M430.6 362.3h0M422.1 367.7h0M425.7 365.5h0M436.1 370.9h0M442.4 368.6h0M408.5 365.9h0M464.0 354.4h0M439.6 365.4h0M474.0 354.1h0M448.1 371.3h0M404.3 358.0h0M455.6 361.1h0M444.3 344.3h0M396.6 358.3h0M405.8 368.2h0M420.7 361.0h0M438.8 367.1h0M416.6 378.2h0M442.8 362.7h0M465.0 369.2h0M418.1 348.7h0M433.1 343.3h0M434.3 368.7h0M442.4 358.9h0M461.2 325.2h0M463.8 360.0h0M464.4 346.4h0M439.2 372.1h0M486.0 367.1h0M439.7 354.6h0M398.6 366.5h0M453.3 361.9h0M442.6 370.3h0M433.6 364.9h0M454.4 348.0h0M408.0 357.2h0M402.1 354.5h0M437.7 354.7h0M468.8 333.9h0M436.8 367.6h0M442.5 357.7h0M418.7 377.1h0M444.5 346.4h0M443.6 378.8h0M441.6 353.1h0M412.4 358.6h0M443.0 327.7h0M427.5 368.0h0M432.0 362.8h0M427.3 328.5h0M438.9 360.2h0M409.2 340.0h0M419.8 366.6h0M436.1 374.5h0M442.8 368.2h0M426.5 363.2h0M435.2 364.0h0M404.6 356.6h0M495.9 343.3h0M427.7 350.6h0M407.2 346.7h0M457.3 371.6h0M415.5 358.9h0M429.8 378.3h0M434.3 361.9h0M431.8 365.2h0M429.1 365.6h0M432.8 358.1h0M438.0 363.9h0M482.8 342.4h0M449.2 379.5h0M413.7 375.2h0M433.2 350.9h0M434.0 366.6h0M397.3 367.5h0M438.7 365.9h0M419.9 354.9h0M459.1 367.3h0M404.6 375.1h0M437.3 361.7h0M418.2 359.4h0M430.8 351.4h0M434.0 367.7h0M411.6 359.1h0M405.7 367.4h0M408.8 375.4h0M406.1 372.8h0M411.0 332.6h0M427.5 361.9h0M465.5 365.0h0M450.2 359.5h0M395.4 341.9h0M474.3 338.9h0M450.2 366.6h0M408.3 356.3h0M404.4 361.3h0M411.5 373.5h0M429.8 375.0h0M439.8 363.4h0M429.8 361.6h0M403.2 376.7h0M405.1 333.5h0M462.4 364.1h0M501.0 357.2h0M434.9 364.5h0M427.5 370.1h0M428.4 365.8h0M446.7 356.7h0M416.8 359.7h0M418.9 358.7h0M429.2 366.7h0M458.2 367.0h0M451.9 361.4h0M397.0 364.2h0M439.9 346.4h0M431.6 348.9h0M399.0 367.9h0M427.3 356.6h0M449.0 346.8h0M454.3 350.3h0M406.3 377.8h0M451.5 360.5h0M440.9 361.1h0M425.8 363.9h0M452.7 368.6h0M459.4 347.9h0M466.6 370.1h0M456.6 344.2h0M433.6 333.5h0M465.2 352.3h0M475.5 333.3h0M444.4 321.2h0M434.0 369.1h0M433.8 368.9h0M399.8 350.9h0M428.7 360.3h0M410.9 373.1h0M438.3 363.8h0M425.8 327.2h0M403.9 372.8h0M413.0 348.6h0M429.1 365.4h0M441.4 377.0h0M414.3 342.3h0M449.8 366.3h0M416.2 352.2h0M467.2 352.4h0M424.6 376.7h0M412.7 350.3h0M439.0 363.4h0M421.1 338.2h0M488.7 329.6h0M441.1 368.0h0M462.0 367.0h0M414.3 370.0h0M442.9 329.8h0M441.6 365.3h0M433.6 370.2h0M432.8 367.9h0M399.2 358.3h0M435.5 360.3h0M427.7 370.2h0M453.8 359.2h0M410.8 368.1h0M398.4 360.9h0M440.0 376.1h0M445.8 355.5h0M420.1 336.2h0M450.1 363.1h0M423.1 359.5h0M433.2 363.9h0M406.6 363.3h0M448.1 369.2h0M403.8 325.7h0M448.4 335.3h0M396.9 314.0h0M436.0 354.0h0M437.3 350.6h0M440.5 362.2h0M436.3 357.4h0M416.8 367.4h0M442.1 354.0h0M441.0 362.4h0M429.6 352.7h0M397.0 365.4h0M409.1 374.5h0M414.6 364.1h0M501.6 371.4h0M444.4 357.3h0M446.4 364.4h0M446.7 362.1h0M405.2 362.9h0M433.1 360.8h0M417.7 346.6h0M451.6 361.8h0M447.3 369.9h0M418.1 352.1h0M512.5 315.6h0M455.7 352.6h0M416.6 359.0h0M447.4 355.9h0M424.2 365.3h0M464.7 372.9h0M457.9 361.4h0M471.5 375.9h0" stroke="#2a47a8" stroke-width="1.00" stroke-linecap="round" stroke-opacity="0.90" fill="none"/>
<text x="35.9" y="29.1" font-size="11.2" text-anchor="middle" >0.3</text>
<text x="35.9" y="106.5" font-size="11.2" text-anchor="middle" >0.2</text>
<text x="35.9" y="123.0" font-size="11.2" text-anchor="middle" >0.5</text>
<text x="35.9" y="200.4" font-size="11.2" text-anchor="middle" >0.1</text>
<text x="35.9" y="216.9" font-size="11.2" text-anchor="middle" >0.6</text>
<text x="35.9" y="294.4" font-size="11.2" text-anchor="middle" >0</text>
<text x="36.9" y="311.2" font-size="11.2" text-anchor="middle" >0.9</text>
<text x="35.9" y="388.4" font-size="11.2" text-anchor="middle" >0</text>
<text x="210.2" y="29.1" font-size="11.2" text-anchor="middle" >-10</text>
<text x="210.2" y="67.8" font-size="11.2" text-anchor="middle" >-35</text>
<text x="210.2" y="106.5" font-size="11.2" text-anchor="middle" >-60</text>
<text x="210.2" y="123.0" font-size="11.2" text-anchor="middle" >0</text>
<text x="210.2" y="161.8" font-size="11.2" text-anchor="middle" >-25</text>
<text x="210.2" y="200.4" font-size="11.2" text-anchor="middle" >-50</text>
<text x="210.2" y="216.9" font-size="11.2" text-anchor="middle" >0</text>
<text x="210.2" y="255.7" font-size="11.2" text-anchor="middle" >-25</text>
<text x="210.2" y="294.4" font-size="11.2" text-anchor="middle" >-50</text>
<text x="210.2" y="311.2" font-size="11.2" text-anchor="middle" >0</text>
<text x="210.2" y="349.8" font-size="11.2" text-anchor="middle" >-30</text>
<text x="210.2" y="388.4" font-size="11.2" text-anchor="middle" >-60</text>
<text x="383.4" y="29.1" font-size="11.2" text-anchor="middle" >1.5</text>
<text x="383.4" y="106.5" font-size="11.2" text-anchor="middle" >0</text>
<text x="383.4" y="123.0" font-size="11.2" text-anchor="middle" >1.5</text>
<text x="383.4" y="200.4" font-size="11.2" text-anchor="middle" >0</text>
<text x="383.4" y="216.9" font-size="11.2" text-anchor="middle" >1.5</text>
<text x="386.9" y="295.6" font-size="11.2" text-anchor="middle" >0</text>
<text x="383.4" y="311.2" font-size="11.2" text-anchor="middle" >1.5</text>
<text x="383.4" y="388.4" font-size="11.2" text-anchor="middle" >0</text>
<text x="45.6" y="397.7" font-size="10.5" text-anchor="middle" >355</text>
<text x="108.3" y="397.7" font-size="10.5" text-anchor="middle" >365</text>
<text x="171.1" y="397.7" font-size="10.5" text-anchor="middle" >375</text>
<text x="220.5" y="397.7" font-size="10.5" text-anchor="middle" >0</text>
<text x="283.2" y="397.7" font-size="10.5" text-anchor="middle" >10</text>
<text x="346.0" y="397.7" font-size="10.5" text-anchor="middle" >20</text>
<text x="392.3" y="397.7" font-size="10.5" text-anchor="middle" >0</text>
<text x="517.8" y="397.7" font-size="10.5" text-anchor="middle" >1.5</text>
<text x="108.5" y="19.5" font-size="13.2" text-anchor="middle" xml:space="preserve">Time&#160; Series</text>
<text x="283.5" y="19.5" font-size="13.2" text-anchor="middle" xml:space="preserve">Power&#160; Spectra</text>
<text x="455.5" y="19.5" font-size="13.2" text-anchor="middle" >Phase Portraits</text>
<text x="108.5" y="410.5" font-size="13.2" text-anchor="middle" >Time (<tspan font-style="italic">ns</tspan>)</text>
<text x="283.3" y="410.5" font-size="13.2" text-anchor="middle" >Frequency (<tspan font-style="italic">GHz</tspan>)</text>
<text x="455.5" y="410.5" font-size="13.2" text-anchor="middle" >P(n)</text>
<text transform="translate(21.0 210.5) rotate(-90)" font-size="13.2" text-anchor="middle">Intensity (a. u.)</text>
<text transform="translate(194.0 210.5) rotate(-90)" font-size="13.2" text-anchor="middle">Magnitude (dB)</text>
<text transform="translate(368.6 209.2) rotate(-90)" font-size="13.2" text-anchor="middle">P(n+1)</text>
<text x="532.0" y="68.4" font-size="11.4" text-anchor="middle" style="stroke-width:.26px">(a)</text>
<text x="532.0" y="162.4" font-size="11.4" text-anchor="middle" style="stroke-width:.26px">(b)</text>
<text x="532.0" y="256.4" font-size="11.4" text-anchor="middle" style="stroke-width:.26px">(c)</text>
<text x="532.0" y="350.5" font-size="11.4" text-anchor="middle" style="stroke-width:.26px">(d)</text>
</svg></body></html>
